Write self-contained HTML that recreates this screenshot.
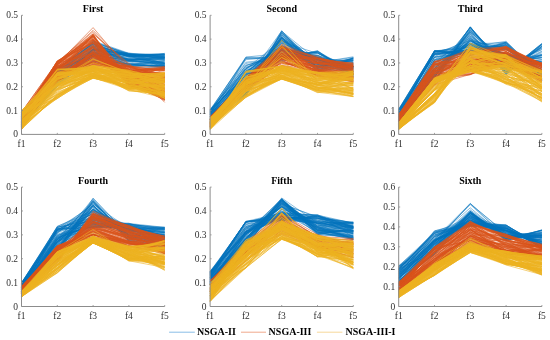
<!DOCTYPE html>
<html><head><meta charset="utf-8"><style>
html,body{margin:0;padding:0;background:#fff;}
body{width:550px;height:340px;overflow:hidden;}
svg{display:block;}
svg{will-change:transform;}
.t{font-family:"Liberation Serif",serif;font-size:9.5px;fill:#303030;}
.ti{font-family:"Liberation Serif",serif;font-size:10px;font-weight:bold;fill:#000;}
.lg{font-family:"Liberation Serif",serif;font-size:10px;font-weight:bold;fill:#000;}
</style></head><body>
<svg width="550" height="340" viewBox="0 0 550 340">
<path d="M21.50 117.16 L57.30 84.02 L93.10 58.84 L128.90 60.98 L164.70 56.42 M21.50 120.15 L57.30 69.26 L93.10 43.42 L128.90 53.67 L164.70 63.48 M21.50 115.73 L57.30 77.77 L93.10 53.87 L128.90 55.18 L164.70 58.68 M21.50 126.24 L57.30 74.58 L93.10 44.60 L128.90 56.07 L164.70 53.60 M21.50 115.93 L57.30 76.83 L93.10 56.38 L128.90 64.21 L164.70 66.85 M21.50 118.79 L57.30 71.09 L93.10 47.08 L128.90 60.62 L164.70 53.26 M21.50 114.39 L57.30 67.93 L93.10 44.08 L128.90 59.66 L164.70 58.03 M21.50 114.97 L57.30 72.16 L93.10 55.35 L128.90 56.71 L164.70 57.55 M21.50 122.14 L57.30 79.06 L93.10 49.90 L128.90 59.40 L164.70 58.99 M21.50 120.89 L57.30 79.57 L93.10 54.83 L128.90 60.27 L164.70 64.27 M21.50 122.27 L57.30 82.27 L93.10 55.73 L128.90 63.16 L164.70 66.45 M21.50 126.21 L57.30 84.37 L93.10 48.45 L128.90 55.55 L164.70 56.55 M21.50 118.48 L57.30 79.66 L93.10 50.32 L128.90 53.11 L164.70 56.09 M21.50 123.13 L57.30 80.80 L93.10 50.94 L128.90 64.72 L164.70 66.09 M21.50 119.90 L57.30 77.77 L93.10 47.09 L128.90 60.61 L164.70 62.75 M21.50 125.30 L57.30 77.85 L93.10 54.54 L128.90 61.91 L164.70 68.05 M21.50 116.49 L57.30 77.17 L93.10 53.65 L128.90 66.09 L164.70 68.58 M21.50 115.24 L57.30 68.85 L93.10 41.58 L128.90 55.17 L164.70 54.79 M21.50 119.45 L57.30 75.81 L93.10 45.49 L128.90 54.43 L164.70 58.67 M21.50 118.44 L57.30 72.72 L93.10 43.49 L128.90 57.13 L164.70 63.57 M21.50 117.61 L57.30 73.96 L93.10 42.09 L128.90 53.68 L164.70 59.47 M21.50 124.38 L57.30 85.41 L93.10 55.20 L128.90 54.31 L164.70 55.00 M21.50 116.94 L57.30 79.83 L93.10 56.36 L128.90 58.21 L164.70 58.43 M21.50 116.80 L57.30 72.82 L93.10 46.09 L128.90 54.24 L164.70 56.99 M21.50 121.56 L57.30 81.62 L93.10 59.36 L128.90 64.42 L164.70 61.27 M21.50 125.90 L57.30 83.56 L93.10 52.99 L128.90 59.23 L164.70 59.58 M21.50 115.16 L57.30 72.40 L93.10 41.41 L128.90 54.12 L164.70 65.96 M21.50 119.61 L57.30 74.54 L93.10 56.21 L128.90 58.75 L164.70 61.25 M21.50 122.55 L57.30 72.45 L93.10 52.92 L128.90 55.37 L164.70 62.88 M21.50 120.96 L57.30 77.71 L93.10 50.95 L128.90 54.56 L164.70 56.92 M21.50 114.60 L57.30 68.20 L93.10 56.18 L128.90 66.23 L164.70 64.72 M21.50 116.07 L57.30 79.18 L93.10 54.37 L128.90 60.80 L164.70 63.30 M21.50 117.40 L57.30 76.27 L93.10 48.73 L128.90 54.77 L164.70 57.89 M21.50 126.98 L57.30 80.03 L93.10 52.07 L128.90 55.77 L164.70 54.87 M21.50 122.57 L57.30 83.03 L93.10 59.77 L128.90 63.89 L164.70 66.32 M21.50 115.44 L57.30 68.55 L93.10 43.18 L128.90 63.74 L164.70 67.26 M21.50 117.75 L57.30 68.52 L93.10 44.21 L128.90 55.87 L164.70 63.92 M21.50 120.54 L57.30 79.29 L93.10 59.05 L128.90 65.83 L164.70 65.58 M21.50 113.76 L57.30 68.92 L93.10 40.78 L128.90 53.24 L164.70 57.65 M21.50 123.47 L57.30 73.85 L93.10 56.01 L128.90 60.19 L164.70 64.87 M21.50 124.51 L57.30 75.73 L93.10 62.25 L128.90 60.99 L164.70 61.07 M21.50 116.27 L57.30 69.05 L93.10 44.10 L128.90 55.18 L164.70 54.80 M21.50 118.24 L57.30 68.07 L93.10 57.62 L128.90 65.40 L164.70 65.87 M21.50 119.07 L57.30 82.53 L93.10 55.36 L128.90 60.60 L164.70 66.73 M21.50 123.29 L57.30 84.55 L93.10 49.38 L128.90 56.13 L164.70 57.53 M21.50 124.63 L57.30 86.69 L93.10 53.22 L128.90 65.13 L164.70 66.41 M21.50 113.15 L57.30 70.24 L93.10 49.93 L128.90 55.80 L164.70 55.36 M21.50 126.60 L57.30 77.97 L93.10 61.54 L128.90 63.73 L164.70 68.24 M21.50 123.95 L57.30 80.88 L93.10 54.37 L128.90 61.13 L164.70 65.48 M21.50 113.55 L57.30 79.60 L93.10 47.42 L128.90 55.88 L164.70 60.32 M21.50 125.78 L57.30 86.16 L93.10 57.15 L128.90 65.16 L164.70 60.49 M21.50 114.32 L57.30 67.84 L93.10 45.75 L128.90 56.34 L164.70 58.03 M21.50 117.95 L57.30 73.70 L93.10 46.59 L128.90 54.97 L164.70 56.80 M21.50 114.07 L57.30 70.20 L93.10 42.80 L128.90 57.22 L164.70 54.71 M21.50 126.83 L57.30 81.14 L93.10 52.41 L128.90 59.22 L164.70 62.87 M21.50 113.88 L57.30 81.73 L93.10 49.23 L128.90 55.69 L164.70 67.14 M21.50 119.11 L57.30 72.38 L93.10 52.41 L128.90 64.37 L164.70 63.20 M21.50 123.73 L57.30 82.49 L93.10 49.17 L128.90 54.36 L164.70 54.22 M21.50 121.95 L57.30 78.14 L93.10 50.15 L128.90 59.45 L164.70 59.63 M21.50 119.96 L57.30 76.03 L93.10 42.08 L128.90 54.61 L164.70 53.83 M21.50 122.91 L57.30 75.02 L93.10 48.81 L128.90 61.62 L164.70 57.86 M21.50 127.19 L57.30 81.83 L93.10 49.09 L128.90 53.67 L164.70 55.12 M21.50 121.23 L57.30 76.46 L93.10 49.08 L128.90 59.96 L164.70 57.53 M21.50 124.13 L57.30 84.52 L93.10 53.64 L128.90 56.45 L164.70 56.19 M21.50 113.34 L57.30 73.70 L93.10 51.72 L128.90 60.32 L164.70 63.92 M21.50 125.53 L57.30 85.93 L93.10 50.47 L128.90 59.99 L164.70 65.19 M21.50 121.46 L57.30 71.07 L93.10 45.52 L128.90 54.37 L164.70 54.89 M21.50 125.01 L57.30 79.38 L93.10 49.41 L128.90 58.29 L164.70 62.43 M21.50 120.36 L57.30 86.23 L93.10 61.17 L128.90 66.18 L164.70 65.03 M21.50 124.91 L57.30 75.40 L93.10 46.99 L128.90 56.46 L164.70 64.33" fill="none" stroke="#0072BD" stroke-width="0.45" stroke-linejoin="round"/>
<path d="M21.50 124.66 L57.30 75.94 L93.10 55.59 L128.90 71.66 L164.70 87.18 M21.50 116.60 L57.30 66.96 L93.10 39.68 L128.90 81.42 L164.70 98.45 M21.50 117.99 L57.30 67.47 L93.10 40.89 L128.90 84.79 L164.70 89.66 M21.50 119.71 L57.30 60.92 L93.10 42.75 L128.90 80.66 L164.70 100.76 M21.50 127.36 L57.30 76.32 L93.10 59.56 L128.90 78.06 L164.70 89.82 M21.50 116.65 L57.30 61.68 L93.10 42.79 L128.90 84.90 L164.70 82.95 M21.50 126.38 L57.30 69.01 L93.10 47.05 L128.90 78.83 L164.70 84.21 M21.50 117.14 L57.30 61.40 L93.10 39.40 L128.90 85.56 L164.70 76.94 M21.50 125.65 L57.30 79.00 L93.10 57.61 L128.90 67.70 L164.70 75.19 M21.50 123.11 L57.30 80.61 L93.10 64.32 L128.90 66.00 L164.70 71.33 M21.50 124.22 L57.30 77.61 L93.10 60.75 L128.90 72.24 L164.70 73.36 M21.50 124.90 L57.30 68.12 L93.10 47.08 L128.90 81.65 L164.70 76.47 M21.50 116.82 L57.30 64.13 L93.10 35.32 L128.90 85.60 L164.70 98.96 M21.50 118.34 L57.30 61.02 L93.10 38.34 L128.90 85.09 L164.70 98.19 M21.50 125.58 L57.30 76.86 L93.10 63.20 L128.90 68.73 L164.70 68.30 M21.50 124.51 L57.30 78.39 L93.10 62.21 L128.90 74.08 L164.70 68.92 M21.50 128.33 L57.30 75.42 L93.10 61.70 L128.90 73.48 L164.70 80.56 M21.50 123.67 L57.30 80.32 L93.10 57.74 L128.90 70.44 L164.70 68.35 M21.50 121.00 L57.30 63.71 L93.10 38.58 L128.90 82.71 L164.70 97.73 M21.50 125.44 L57.30 78.35 L93.10 52.52 L128.90 84.39 L164.70 82.57 M21.50 124.94 L57.30 75.35 L93.10 52.76 L128.90 78.02 L164.70 99.48 M21.50 120.85 L57.30 65.45 L93.10 42.35 L128.90 79.15 L164.70 77.92 M21.50 120.24 L57.30 65.08 L93.10 37.12 L128.90 85.95 L164.70 93.61 M21.50 127.17 L57.30 81.49 L93.10 57.71 L128.90 69.38 L164.70 76.47 M21.50 118.38 L57.30 66.12 L93.10 51.21 L128.90 70.87 L164.70 66.56 M21.50 118.51 L57.30 63.77 L93.10 38.91 L128.90 80.85 L164.70 87.70 M21.50 126.28 L57.30 77.60 L93.10 55.37 L128.90 84.00 L164.70 98.00 M21.50 128.51 L57.30 72.69 L93.10 35.63 L128.90 84.35 L164.70 91.29 M21.50 129.02 L57.30 76.57 L93.10 53.71 L128.90 75.62 L164.70 89.60 M21.50 122.50 L57.30 78.41 L93.10 61.96 L128.90 76.54 L164.70 78.88 M21.50 119.99 L57.30 72.97 L93.10 50.66 L128.90 77.05 L164.70 97.12 M21.50 115.95 L57.30 69.77 L93.10 56.44 L128.90 69.17 L164.70 82.36 M21.50 123.49 L57.30 68.43 L93.10 52.36 L128.90 74.39 L164.70 88.24 M21.50 123.55 L57.30 75.47 L93.10 47.83 L128.90 76.12 L164.70 90.40 M21.50 122.20 L57.30 64.97 L93.10 36.55 L128.90 76.99 L164.70 81.46 M21.50 120.50 L57.30 81.63 L93.10 62.88 L128.90 70.39 L164.70 69.84 M21.50 117.76 L57.30 67.30 L93.10 48.58 L128.90 82.53 L164.70 79.51 M21.50 121.49 L57.30 77.69 L93.10 52.02 L128.90 71.22 L164.70 73.69 M21.50 121.59 L57.30 67.37 L93.10 50.05 L128.90 82.55 L164.70 96.41 M21.50 116.20 L57.30 62.87 L93.10 35.34 L128.90 84.58 L164.70 97.54 M21.50 119.78 L57.30 70.10 L93.10 46.55 L128.90 76.38 L164.70 82.31 M21.50 117.30 L57.30 64.43 L93.10 35.97 L128.90 85.75 L164.70 91.37 M21.50 119.28 L57.30 69.75 L93.10 52.79 L128.90 77.85 L164.70 94.18 M21.50 128.11 L57.30 70.19 L93.10 48.98 L128.90 76.51 L164.70 97.97 M21.50 123.99 L57.30 75.12 L93.10 59.48 L128.90 70.68 L164.70 78.36 M21.50 128.81 L57.30 70.78 L93.10 39.87 L128.90 78.53 L164.70 76.97 M21.50 120.74 L57.30 66.27 L93.10 45.47 L128.90 84.31 L164.70 95.03 M21.50 123.85 L57.30 70.23 L93.10 59.20 L128.90 74.17 L164.70 78.06 M21.50 124.17 L57.30 74.46 L93.10 62.73 L128.90 70.40 L164.70 70.45 M21.50 129.16 L57.30 68.29 L93.10 41.39 L128.90 81.20 L164.70 85.65 M21.50 120.19 L57.30 64.42 L93.10 37.27 L128.90 81.91 L164.70 79.20 M21.50 125.32 L57.30 65.00 L93.10 39.64 L128.90 83.14 L164.70 91.42 M21.50 115.70 L57.30 70.71 L93.10 39.98 L128.90 84.46 L164.70 99.60 M21.50 115.55 L57.30 64.58 L93.10 47.84 L128.90 79.55 L164.70 74.21 M21.50 119.46 L57.30 73.49 L93.10 55.64 L128.90 75.92 L164.70 68.41 M21.50 126.83 L57.30 81.61 L93.10 53.01 L128.90 76.47 L164.70 97.98 M21.50 127.78 L57.30 80.91 L93.10 63.83 L128.90 71.66 L164.70 72.88 M21.50 121.15 L57.30 79.18 L93.10 60.62 L128.90 69.58 L164.70 83.01 M21.50 119.05 L57.30 70.93 L93.10 54.77 L128.90 79.39 L164.70 67.06 M21.50 117.49 L57.30 62.19 L93.10 36.40 L128.90 77.22 L164.70 80.38 M21.50 122.66 L57.30 64.22 L93.10 41.78 L128.90 70.54 L164.70 68.72 M21.50 125.15 L57.30 73.51 L93.10 55.77 L128.90 66.73 L164.70 76.65 M21.50 126.06 L57.30 76.49 L93.10 43.86 L128.90 78.27 L164.70 89.09 M21.50 127.64 L57.30 79.95 L93.10 55.25 L128.90 71.30 L164.70 75.51 M21.50 128.38 L57.30 81.49 L93.10 55.39 L128.90 73.79 L164.70 66.93 M21.50 118.67 L57.30 75.15 L93.10 64.94 L128.90 66.92 L164.70 70.34 M21.50 118.17 L57.30 60.92 L93.10 42.78 L128.90 79.40 L164.70 99.27 M21.50 124.43 L57.30 76.83 L93.10 61.21 L128.90 66.69 L164.70 77.45 M21.50 123.31 L57.30 72.41 L93.10 62.38 L128.90 71.88 L164.70 81.49 M21.50 118.91 L57.30 66.13 L93.10 56.61 L128.90 67.35 L164.70 73.77 M21.50 126.60 L57.30 76.46 L93.10 56.38 L128.90 72.84 L164.70 67.31 M21.50 120.36 L57.30 66.75 L93.10 42.62 L128.90 85.61 L164.70 96.81 M21.50 122.80 L57.30 68.46 L93.10 46.73 L128.90 86.31 L164.70 92.35 M21.50 117.45 L57.30 74.49 L93.10 58.32 L128.90 69.61 L164.70 91.41 M21.50 116.25 L57.30 68.35 L93.10 45.09 L128.90 80.57 L164.70 100.39 M21.50 126.93 L57.30 78.40 L93.10 57.34 L128.90 73.24 L164.70 84.38 M21.50 119.52 L57.30 71.01 L93.10 34.90 L128.90 79.25 L164.70 80.46 M21.50 128.72 L57.30 80.58 L93.10 50.82 L128.90 66.91 L164.70 77.15 M21.50 129.35 L57.30 74.38 L93.10 62.62 L128.90 66.75 L164.70 66.95 M21.50 127.28 L57.30 73.94 L93.10 60.21 L128.90 68.00 L164.70 79.54 M21.50 117.03 L57.30 62.52 L93.10 34.39 L128.90 86.57 L164.70 88.08 M21.50 121.22 L57.30 70.96 L93.10 52.44 L128.90 73.46 L164.70 68.84 M21.50 115.86 L57.30 63.21 L93.10 40.77 L128.90 76.17 L164.70 81.61 M21.50 119.15 L57.30 77.57 L93.10 55.18 L128.90 69.08 L164.70 69.98 M21.50 116.48 L57.30 66.27 L93.10 43.07 L128.90 85.41 L164.70 92.44 M21.50 127.95 L57.30 69.72 L93.10 46.16 L128.90 76.08 L164.70 99.44 M21.50 127.56 L57.30 78.71 L93.10 53.31 L128.90 75.61 L164.70 82.03 M21.50 121.90 L57.30 75.20 L93.10 34.38 L128.90 85.25 L164.70 91.10 M21.50 126.76 L57.30 78.94 L93.10 59.73 L128.90 66.78 L164.70 69.68 M21.50 121.66 L57.30 62.05 L93.10 36.43 L128.90 81.00 L164.70 91.96 M21.50 129.57 L57.30 72.96 L93.10 47.58 L128.90 82.27 L164.70 85.44 M21.50 125.83 L57.30 76.87 L93.10 53.45 L128.90 77.71 L164.70 77.35 M21.50 122.25 L57.30 63.13 L93.10 54.28 L128.90 65.67 L164.70 75.09 M21.50 122.46 L57.30 61.31 L93.10 53.55 L128.90 65.71 L164.70 78.12 M21.50 126.05 L57.30 76.70 L93.10 64.90 L128.90 70.24 L164.70 69.47 M21.50 117.85 L57.30 67.97 L93.10 46.59 L128.90 80.56 L164.70 88.88 M21.50 122.93 L57.30 78.88 L93.10 51.94 L128.90 78.81 L164.70 84.51 M21.50 129.31 L57.30 75.39 L93.10 55.58 L128.90 79.45 L164.70 70.14 M21.50 115.39 L57.30 62.45 L93.10 35.59 L128.90 86.23 L164.70 80.42 M21.50 121.92 L57.30 75.95 L93.10 64.72 L128.90 74.15 L164.70 74.00" fill="none" stroke="#D95319" stroke-width="0.55" stroke-linejoin="round"/>
<path d="M21.50 112.30 L57.30 61.67 L93.10 33.66 L128.90 64.65 L164.70 89.09 M21.50 112.31 L57.30 64.00 L93.10 33.91 L128.90 63.39 L164.70 89.95 M21.50 114.49 L57.30 62.76 L93.10 30.35 L128.90 66.62 L164.70 102.41 M21.50 112.13 L57.30 62.00 L93.10 31.70 L128.90 71.15 L164.70 91.63 M21.50 116.48 L57.30 63.77 L93.10 27.60 L128.90 69.38 L164.70 99.24" fill="none" stroke="#D95319" stroke-width="0.55" stroke-linejoin="round"/>
<path d="M21.50 116.08 L57.30 89.20 L93.10 68.97 L128.90 72.58 L164.70 77.97 M21.50 113.16 L57.30 84.76 L93.10 76.29 L128.90 85.08 L164.70 92.20 M21.50 121.83 L57.30 92.82 L93.10 78.02 L128.90 87.55 L164.70 95.43 M21.50 125.32 L57.30 73.07 L93.10 75.27 L128.90 86.09 L164.70 95.94 M21.50 122.11 L57.30 84.62 L93.10 70.58 L128.90 82.36 L164.70 81.05 M21.50 115.81 L57.30 74.66 L93.10 71.97 L128.90 86.24 L164.70 74.87 M21.50 115.62 L57.30 94.07 L93.10 77.03 L128.90 85.53 L164.70 86.31 M21.50 116.21 L57.30 79.45 L93.10 65.88 L128.90 71.66 L164.70 85.28 M21.50 118.51 L57.30 70.05 L93.10 67.08 L128.90 72.74 L164.70 82.12 M21.50 116.94 L57.30 72.72 L93.10 71.35 L128.90 73.89 L164.70 95.69 M21.50 117.16 L57.30 72.55 L93.10 66.08 L128.90 70.19 L164.70 80.31 M21.50 112.26 L57.30 75.73 L93.10 67.11 L128.90 76.43 L164.70 80.81 M21.50 127.89 L57.30 86.04 L93.10 76.54 L128.90 78.16 L164.70 89.30 M21.50 128.19 L57.30 90.35 L93.10 75.16 L128.90 79.81 L164.70 94.63 M21.50 111.86 L57.30 74.37 L93.10 66.57 L128.90 71.22 L164.70 79.58 M21.50 114.87 L57.30 85.59 L93.10 67.69 L128.90 84.09 L164.70 76.53 M21.50 121.96 L57.30 97.30 L93.10 73.24 L128.90 88.46 L164.70 89.66 M21.50 120.02 L57.30 81.04 L93.10 69.92 L128.90 78.26 L164.70 72.60 M21.50 124.39 L57.30 93.64 L93.10 73.73 L128.90 87.26 L164.70 84.90 M21.50 112.68 L57.30 84.32 L93.10 71.16 L128.90 80.05 L164.70 78.93 M21.50 111.02 L57.30 72.07 L93.10 65.49 L128.90 85.38 L164.70 96.00 M21.50 113.21 L57.30 78.33 L93.10 65.32 L128.90 72.57 L164.70 82.59 M21.50 116.82 L57.30 75.06 L93.10 71.26 L128.90 82.22 L164.70 89.22 M21.50 113.69 L57.30 88.08 L93.10 68.25 L128.90 76.34 L164.70 93.52 M21.50 114.04 L57.30 83.52 L93.10 68.78 L128.90 85.05 L164.70 75.34 M21.50 125.15 L57.30 88.49 L93.10 77.72 L128.90 89.44 L164.70 98.16 M21.50 111.82 L57.30 98.57 L93.10 70.16 L128.90 77.87 L164.70 91.32 M21.50 121.29 L57.30 87.98 L93.10 66.69 L128.90 80.80 L164.70 89.65 M21.50 126.64 L57.30 75.12 L93.10 70.23 L128.90 88.66 L164.70 95.75 M21.50 126.92 L57.30 79.45 L93.10 66.81 L128.90 75.04 L164.70 98.42 M21.50 113.01 L57.30 94.80 L93.10 77.06 L128.90 75.34 L164.70 93.27 M21.50 113.45 L57.30 83.42 L93.10 66.99 L128.90 77.83 L164.70 75.06 M21.50 128.04 L57.30 77.95 L93.10 75.13 L128.90 88.72 L164.70 87.54 M21.50 118.01 L57.30 73.05 L93.10 73.20 L128.90 75.11 L164.70 72.52 M21.50 111.75 L57.30 69.78 L93.10 67.97 L128.90 82.52 L164.70 73.19 M21.50 124.47 L57.30 98.43 L93.10 76.11 L128.90 88.95 L164.70 86.10 M21.50 126.75 L57.30 85.79 L93.10 73.43 L128.90 88.66 L164.70 78.98 M21.50 122.17 L57.30 77.56 L93.10 68.45 L128.90 81.09 L164.70 78.06 M21.50 126.88 L57.30 96.01 L93.10 75.14 L128.90 76.29 L164.70 98.63 M21.50 126.95 L57.30 91.28 L93.10 72.67 L128.90 87.03 L164.70 97.69 M21.50 113.54 L57.30 74.64 L93.10 68.45 L128.90 72.92 L164.70 76.22 M21.50 115.96 L57.30 85.09 L93.10 73.94 L128.90 86.19 L164.70 76.02 M21.50 113.83 L57.30 97.40 L93.10 71.47 L128.90 88.15 L164.70 81.07 M21.50 119.37 L57.30 98.58 L93.10 74.86 L128.90 81.12 L164.70 87.69 M21.50 123.55 L57.30 81.96 L93.10 66.07 L128.90 77.56 L164.70 74.73 M21.50 118.52 L57.30 75.62 L93.10 75.19 L128.90 81.37 L164.70 89.64 M21.50 113.25 L57.30 92.07 L93.10 77.87 L128.90 87.00 L164.70 92.00 M21.50 128.93 L57.30 95.41 L93.10 75.35 L128.90 82.35 L164.70 87.09 M21.50 121.42 L57.30 83.49 L93.10 69.48 L128.90 75.26 L164.70 88.03 M21.50 124.25 L57.30 83.79 L93.10 75.42 L128.90 76.82 L164.70 97.06 M21.50 119.84 L57.30 77.86 L93.10 68.80 L128.90 79.75 L164.70 86.96 M21.50 129.34 L57.30 85.73 L93.10 75.82 L128.90 74.08 L164.70 83.97 M21.50 117.64 L57.30 76.99 L93.10 70.75 L128.90 79.42 L164.70 81.81 M21.50 116.25 L57.30 68.93 L93.10 67.72 L128.90 75.41 L164.70 74.33 M21.50 117.45 L57.30 88.83 L93.10 68.19 L128.90 76.07 L164.70 92.64 M21.50 115.26 L57.30 86.76 L93.10 73.11 L128.90 72.02 L164.70 93.38 M21.50 126.13 L57.30 83.70 L93.10 73.51 L128.90 82.35 L164.70 73.01 M21.50 123.09 L57.30 86.50 L93.10 78.30 L128.90 79.78 L164.70 82.88 M21.50 124.17 L57.30 73.31 L93.10 67.06 L128.90 74.05 L164.70 73.19 M21.50 125.82 L57.30 89.47 L93.10 77.32 L128.90 79.45 L164.70 90.78 M21.50 113.52 L57.30 85.58 L93.10 69.62 L128.90 78.15 L164.70 73.27 M21.50 120.64 L57.30 89.48 L93.10 72.93 L128.90 90.81 L164.70 93.18 M21.50 110.68 L57.30 75.64 L93.10 65.55 L128.90 70.50 L164.70 78.35 M21.50 127.34 L57.30 95.02 L93.10 74.29 L128.90 88.69 L164.70 94.56 M21.50 112.14 L57.30 84.50 L93.10 70.11 L128.90 71.60 L164.70 91.79 M21.50 114.04 L57.30 69.72 L93.10 68.83 L128.90 74.88 L164.70 85.23 M21.50 121.33 L57.30 76.36 L93.10 71.55 L128.90 89.92 L164.70 82.49 M21.50 112.38 L57.30 84.45 L93.10 65.74 L128.90 71.00 L164.70 89.09 M21.50 112.33 L57.30 88.39 L93.10 71.44 L128.90 86.51 L164.70 95.93 M21.50 120.47 L57.30 97.20 L93.10 74.58 L128.90 78.03 L164.70 89.54 M21.50 126.11 L57.30 97.77 L93.10 77.74 L128.90 82.81 L164.70 79.21 M21.50 128.19 L57.30 94.39 L93.10 76.31 L128.90 82.85 L164.70 96.42 M21.50 124.04 L57.30 83.23 L93.10 71.26 L128.90 90.85 L164.70 94.11 M21.50 129.56 L57.30 75.13 L93.10 73.41 L128.90 90.10 L164.70 94.77 M21.50 111.01 L57.30 79.07 L93.10 67.97 L128.90 72.91 L164.70 74.29 M21.50 118.40 L57.30 81.99 L93.10 70.30 L128.90 73.91 L164.70 86.32 M21.50 125.19 L57.30 89.94 L93.10 76.31 L128.90 87.57 L164.70 84.61 M21.50 118.67 L57.30 73.93 L93.10 73.56 L128.90 89.55 L164.70 82.40 M21.50 126.12 L57.30 97.02 L93.10 76.14 L128.90 85.16 L164.70 93.23 M21.50 122.76 L57.30 96.87 L93.10 66.42 L128.90 83.91 L164.70 94.03 M21.50 118.13 L57.30 72.91 L93.10 72.01 L128.90 74.79 L164.70 80.54 M21.50 111.10 L57.30 73.79 L93.10 67.02 L128.90 73.11 L164.70 82.35 M21.50 119.76 L57.30 96.49 L93.10 77.95 L128.90 86.59 L164.70 94.84 M21.50 129.09 L57.30 95.50 L93.10 73.95 L128.90 83.53 L164.70 82.33 M21.50 128.64 L57.30 95.06 L93.10 78.33 L128.90 86.05 L164.70 97.15 M21.50 114.36 L57.30 78.25 L93.10 69.78 L128.90 77.74 L164.70 76.19 M21.50 116.53 L57.30 74.94 L93.10 68.15 L128.90 85.12 L164.70 85.43 M21.50 125.80 L57.30 78.18 L93.10 75.95 L128.90 88.04 L164.70 91.90 M21.50 113.36 L57.30 82.33 L93.10 68.59 L128.90 75.62 L164.70 82.65 M21.50 125.43 L57.30 84.51 L93.10 76.56 L128.90 82.60 L164.70 79.71" fill="none" stroke="#EDB120" stroke-width="0.6" stroke-linejoin="round"/>
<path d="M21.50 122.53 L57.30 82.98 L93.10 59.33 L128.90 72.32 L164.70 82.82 M21.50 117.48 L57.30 80.48 L93.10 62.75 L128.90 72.57 L164.70 86.32 M21.50 121.28 L57.30 79.67 L93.10 58.82 L128.90 73.26 L164.70 80.03" fill="none" stroke="#EDB120" stroke-width="0.6" stroke-linejoin="round"/>
<path d="M21.50 15.30 L21.50 134.40 L164.70 134.40" fill="none" stroke="#8c8c8c" stroke-width="1"/>
<path d="M21.50 134.40 h1.5 M21.50 110.58 h1.5 M21.50 86.76 h1.5 M21.50 62.94 h1.5 M21.50 39.12 h1.5 M21.50 15.30 h1.5 M57.30 134.40 v-1.5 M93.10 134.40 v-1.5 M128.90 134.40 v-1.5 M164.70 134.40 v-1.5" stroke="#8c8c8c" stroke-width="0.8"/>
<text x="18.00" y="137.40" text-anchor="end" class="t">0</text>
<text x="18.00" y="113.58" text-anchor="end" class="t">0.1</text>
<text x="18.00" y="89.76" text-anchor="end" class="t">0.2</text>
<text x="18.00" y="65.94" text-anchor="end" class="t">0.3</text>
<text x="18.00" y="42.12" text-anchor="end" class="t">0.4</text>
<text x="18.00" y="18.30" text-anchor="end" class="t">0.5</text>
<text x="21.50" y="146.50" text-anchor="middle" class="t">f1</text>
<text x="57.30" y="146.50" text-anchor="middle" class="t">f2</text>
<text x="93.10" y="146.50" text-anchor="middle" class="t">f3</text>
<text x="128.90" y="146.50" text-anchor="middle" class="t">f4</text>
<text x="164.70" y="146.50" text-anchor="middle" class="t">f5</text>
<text x="93.10" y="11.70" text-anchor="middle" class="ti">First</text>
<path d="M210.10 117.71 L245.90 82.12 L281.70 50.52 L317.50 64.41 L353.30 61.36 M210.10 112.59 L245.90 69.69 L281.70 49.77 L317.50 57.21 L353.30 66.87 M210.10 115.21 L245.90 67.50 L281.70 56.35 L317.50 55.28 L353.30 67.60 M210.10 119.83 L245.90 76.15 L281.70 50.31 L317.50 55.49 L353.30 75.79 M210.10 112.79 L245.90 58.42 L281.70 56.06 L317.50 57.76 L353.30 69.21 M210.10 115.79 L245.90 95.57 L281.70 34.86 L317.50 63.33 L353.30 59.17 M210.10 122.11 L245.90 94.36 L281.70 37.10 L317.50 72.12 L353.30 64.55 M210.10 113.88 L245.90 67.25 L281.70 54.39 L317.50 57.39 L353.30 76.80 M210.10 121.61 L245.90 92.49 L281.70 37.65 L317.50 71.34 L353.30 58.08 M210.10 119.28 L245.90 80.57 L281.70 31.06 L317.50 71.85 L353.30 58.46 M210.10 110.70 L245.90 75.91 L281.70 43.54 L317.50 70.34 L353.30 66.56 M210.10 120.62 L245.90 94.92 L281.70 45.45 L317.50 62.24 L353.30 66.37 M210.10 121.22 L245.90 94.02 L281.70 31.23 L317.50 60.36 L353.30 76.54 M210.10 118.37 L245.90 77.26 L281.70 50.94 L317.50 57.31 L353.30 62.33 M210.10 111.54 L245.90 95.07 L281.70 38.29 L317.50 68.53 L353.30 57.86 M210.10 116.02 L245.90 68.82 L281.70 46.33 L317.50 66.53 L353.30 68.73 M210.10 117.34 L245.90 71.59 L281.70 61.51 L317.50 52.83 L353.30 76.33 M210.10 111.21 L245.90 63.39 L281.70 58.38 L317.50 50.68 L353.30 74.39 M210.10 113.12 L245.90 59.71 L281.70 55.73 L317.50 52.80 L353.30 70.70 M210.10 118.58 L245.90 91.01 L281.70 45.67 L317.50 62.09 L353.30 68.29 M210.10 112.10 L245.90 87.96 L281.70 32.34 L317.50 64.22 L353.30 63.37 M210.10 119.99 L245.90 93.99 L281.70 34.50 L317.50 67.48 L353.30 71.18 M210.10 114.52 L245.90 77.70 L281.70 48.51 L317.50 59.86 L353.30 67.48 M210.10 119.44 L245.90 80.52 L281.70 40.45 L317.50 61.08 L353.30 71.86 M210.10 117.10 L245.90 78.04 L281.70 48.79 L317.50 58.53 L353.30 71.15 M210.10 112.42 L245.90 83.22 L281.70 46.49 L317.50 59.23 L353.30 67.07 M210.10 112.90 L245.90 65.27 L281.70 56.27 L317.50 51.95 L353.30 75.39 M210.10 122.33 L245.90 74.08 L281.70 37.36 L317.50 63.01 L353.30 57.41 M210.10 114.07 L245.90 70.52 L281.70 55.01 L317.50 56.95 L353.30 74.13 M210.10 111.90 L245.90 77.64 L281.70 50.60 L317.50 53.17 L353.30 71.15 M210.10 120.30 L245.90 93.81 L281.70 32.38 L317.50 68.59 L353.30 64.16 M210.10 113.20 L245.90 70.95 L281.70 50.59 L317.50 57.41 L353.30 72.97 M210.10 109.68 L245.90 69.12 L281.70 47.15 L317.50 66.95 L353.30 59.77 M210.10 110.96 L245.90 65.23 L281.70 56.06 L317.50 57.30 L353.30 66.32 M210.10 114.87 L245.90 72.53 L281.70 45.63 L317.50 68.44 L353.30 66.08 M210.10 110.60 L245.90 75.40 L281.70 56.03 L317.50 52.50 L353.30 74.30 M210.10 119.63 L245.90 78.76 L281.70 41.61 L317.50 60.71 L353.30 66.60 M210.10 120.46 L245.90 88.23 L281.70 38.51 L317.50 67.41 L353.30 59.87 M210.10 121.16 L245.90 71.47 L281.70 52.48 L317.50 64.42 L353.30 66.66 M210.10 114.65 L245.90 75.16 L281.70 58.73 L317.50 51.59 L353.30 73.17 M210.10 119.00 L245.90 74.32 L281.70 48.45 L317.50 58.48 L353.30 69.17 M210.10 118.20 L245.90 57.22 L281.70 57.46 L317.50 51.47 L353.30 73.39 M210.10 120.93 L245.90 86.61 L281.70 39.60 L317.50 70.10 L353.30 58.41 M210.10 115.42 L245.90 83.22 L281.70 46.22 L317.50 66.59 L353.30 62.37 M210.10 120.11 L245.90 86.73 L281.70 33.30 L317.50 63.10 L353.30 60.15 M210.10 110.06 L245.90 68.55 L281.70 48.61 L317.50 55.13 L353.30 74.73 M210.10 121.45 L245.90 93.96 L281.70 31.50 L317.50 64.43 L353.30 68.18 M210.10 113.59 L245.90 68.85 L281.70 40.32 L317.50 58.48 L353.30 74.06 M210.10 113.67 L245.90 86.75 L281.70 33.65 L317.50 68.01 L353.30 61.17 M210.10 109.50 L245.90 78.91 L281.70 42.63 L317.50 59.62 L353.30 67.48 M210.10 116.98 L245.90 93.47 L281.70 35.14 L317.50 66.69 L353.30 74.67 M210.10 111.43 L245.90 66.11 L281.70 51.85 L317.50 59.16 L353.30 73.13 M210.10 115.55 L245.90 81.51 L281.70 40.12 L317.50 59.12 L353.30 73.30 M210.10 117.78 L245.90 87.57 L281.70 36.67 L317.50 67.87 L353.30 60.41 M210.10 118.83 L245.90 89.05 L281.70 43.14 L317.50 57.85 L353.30 75.52 M210.10 113.34 L245.90 91.20 L281.70 40.49 L317.50 65.63 L353.30 60.57 M210.10 116.22 L245.90 74.42 L281.70 53.04 L317.50 52.69 L353.30 71.06 M210.10 121.70 L245.90 70.85 L281.70 60.44 L317.50 51.43 L353.30 70.73 M210.10 116.71 L245.90 78.34 L281.70 41.53 L317.50 67.08 L353.30 58.20 M210.10 120.72 L245.90 95.77 L281.70 48.69 L317.50 60.08 L353.30 66.32 M210.10 110.52 L245.90 62.24 L281.70 58.06 L317.50 51.00 L353.30 75.57 M210.10 109.96 L245.90 74.96 L281.70 57.48 L317.50 56.74 L353.30 72.90 M210.10 121.90 L245.90 81.58 L281.70 49.92 L317.50 56.10 L353.30 71.28 M210.10 116.41 L245.90 85.77 L281.70 36.05 L317.50 62.27 L353.30 64.92 M210.10 118.06 L245.90 75.05 L281.70 50.12 L317.50 65.94 L353.30 63.36 M210.10 116.47 L245.90 72.76 L281.70 42.94 L317.50 59.67 L353.30 71.86 M210.10 116.77 L245.90 80.98 L281.70 41.65 L317.50 53.49 L353.30 67.69 M210.10 112.19 L245.90 73.58 L281.70 50.10 L317.50 57.58 L353.30 62.69 M210.10 109.76 L245.90 58.68 L281.70 58.90 L317.50 59.26 L353.30 66.46 M210.10 115.62 L245.90 84.03 L281.70 37.85 L317.50 66.63 L353.30 58.26 M210.10 117.50 L245.90 89.43 L281.70 30.62 L317.50 70.04 L353.30 58.09 M210.10 119.14 L245.90 92.87 L281.70 37.54 L317.50 61.14 L353.30 59.77 M210.10 115.11 L245.90 82.14 L281.70 38.69 L317.50 62.62 L353.30 56.77 M210.10 122.25 L245.90 93.29 L281.70 39.35 L317.50 66.89 L353.30 60.21 M210.10 114.24 L245.90 74.89 L281.70 38.41 L317.50 64.63 L353.30 64.59 M210.10 110.31 L245.90 57.69 L281.70 60.30 L317.50 57.91 L353.30 72.86 M210.10 114.35 L245.90 94.32 L281.70 32.83 L317.50 65.54 L353.30 66.13 M210.10 111.14 L245.90 57.08 L281.70 53.41 L317.50 55.58 L353.30 66.75 M210.10 111.84 L245.90 72.12 L281.70 44.99 L317.50 58.23 L353.30 76.53 M210.10 118.51 L245.90 83.80 L281.70 37.31 L317.50 62.50 L353.30 68.67" fill="none" stroke="#0072BD" stroke-width="0.45" stroke-linejoin="round"/>
<path d="M210.10 118.63 L245.90 83.25 L281.70 56.33 L317.50 71.08 L353.30 70.83 M210.10 125.09 L245.90 83.44 L281.70 58.52 L317.50 70.64 L353.30 79.21 M210.10 122.76 L245.90 86.66 L281.70 58.88 L317.50 74.14 L353.30 75.95 M210.10 126.82 L245.90 81.20 L281.70 53.76 L317.50 68.42 L353.30 76.84 M210.10 120.00 L245.90 78.62 L281.70 47.99 L317.50 60.81 L353.30 63.01 M210.10 117.24 L245.90 88.32 L281.70 66.24 L317.50 65.83 L353.30 67.17 M210.10 122.30 L245.90 91.30 L281.70 65.05 L317.50 63.36 L353.30 68.03 M210.10 121.37 L245.90 88.12 L281.70 62.26 L317.50 72.29 L353.30 77.78 M210.10 120.22 L245.90 78.49 L281.70 47.90 L317.50 56.40 L353.30 71.82 M210.10 118.42 L245.90 81.09 L281.70 58.81 L317.50 75.58 L353.30 81.00 M210.10 121.86 L245.90 88.72 L281.70 57.37 L317.50 72.65 L353.30 80.26 M210.10 122.86 L245.90 85.89 L281.70 56.30 L317.50 63.62 L353.30 68.08 M210.10 119.27 L245.90 79.81 L281.70 58.57 L317.50 58.35 L353.30 72.00 M210.10 122.61 L245.90 79.97 L281.70 53.11 L317.50 73.63 L353.30 73.34 M210.10 119.36 L245.90 84.86 L281.70 61.39 L317.50 69.50 L353.30 81.22 M210.10 126.74 L245.90 81.41 L281.70 53.46 L317.50 63.01 L353.30 69.71 M210.10 123.95 L245.90 83.21 L281.70 49.70 L317.50 61.29 L353.30 66.37 M210.10 118.04 L245.90 78.03 L281.70 50.36 L317.50 62.69 L353.30 71.50 M210.10 123.57 L245.90 80.66 L281.70 47.82 L317.50 58.69 L353.30 63.68 M210.10 120.66 L245.90 86.52 L281.70 46.58 L317.50 63.08 L353.30 66.23 M210.10 121.44 L245.90 91.38 L281.70 63.58 L317.50 65.59 L353.30 72.09 M210.10 124.53 L245.90 79.31 L281.70 53.26 L317.50 58.11 L353.30 69.19 M210.10 126.60 L245.90 84.91 L281.70 60.35 L317.50 76.04 L353.30 81.94 M210.10 123.02 L245.90 91.04 L281.70 60.07 L317.50 75.91 L353.30 77.84 M210.10 126.17 L245.90 88.94 L281.70 56.12 L317.50 76.11 L353.30 81.04 M210.10 118.19 L245.90 90.33 L281.70 65.76 L317.50 75.27 L353.30 81.54 M210.10 121.67 L245.90 79.29 L281.70 54.01 L317.50 71.85 L353.30 74.61 M210.10 123.21 L245.90 86.35 L281.70 44.17 L317.50 57.92 L353.30 65.11 M210.10 117.35 L245.90 83.74 L281.70 57.50 L317.50 70.26 L353.30 77.88 M210.10 119.81 L245.90 79.12 L281.70 51.29 L317.50 69.73 L353.30 70.92 M210.10 117.89 L245.90 81.20 L281.70 47.92 L317.50 61.71 L353.30 70.55 M210.10 118.34 L245.90 87.35 L281.70 62.40 L317.50 71.15 L353.30 80.88 M210.10 124.27 L245.90 84.18 L281.70 54.96 L317.50 58.69 L353.30 67.65 M210.10 126.26 L245.90 77.74 L281.70 45.74 L317.50 58.36 L353.30 64.98 M210.10 116.79 L245.90 81.84 L281.70 52.54 L317.50 71.44 L353.30 74.33 M210.10 117.02 L245.90 82.72 L281.70 50.33 L317.50 61.97 L353.30 69.27 M210.10 125.54 L245.90 89.81 L281.70 65.60 L317.50 70.79 L353.30 65.13 M210.10 123.64 L245.90 80.70 L281.70 49.05 L317.50 69.12 L353.30 68.88 M210.10 119.05 L245.90 88.30 L281.70 54.86 L317.50 66.42 L353.30 73.81 M210.10 125.76 L245.90 80.33 L281.70 54.68 L317.50 69.34 L353.30 80.17 M210.10 123.34 L245.90 85.86 L281.70 57.56 L317.50 63.35 L353.30 74.33 M210.10 116.92 L245.90 88.77 L281.70 59.01 L317.50 70.45 L353.30 73.35 M210.10 127.02 L245.90 88.21 L281.70 66.00 L317.50 75.42 L353.30 77.49 M210.10 125.89 L245.90 86.57 L281.70 55.64 L317.50 72.11 L353.30 74.69 M210.10 117.50 L245.90 84.17 L281.70 47.86 L317.50 60.47 L353.30 70.00 M210.10 124.96 L245.90 79.51 L281.70 47.48 L317.50 72.59 L353.30 81.95 M210.10 119.68 L245.90 81.21 L281.70 54.68 L317.50 66.11 L353.30 79.34 M210.10 124.74 L245.90 86.94 L281.70 59.34 L317.50 65.78 L353.30 71.16 M210.10 120.39 L245.90 88.92 L281.70 61.14 L317.50 74.28 L353.30 76.38 M210.10 118.94 L245.90 79.09 L281.70 53.47 L317.50 58.70 L353.30 68.59 M210.10 120.07 L245.90 85.72 L281.70 56.27 L317.50 59.95 L353.30 65.11 M210.10 121.27 L245.90 79.28 L281.70 56.65 L317.50 67.14 L353.30 74.40 M210.10 121.02 L245.90 82.30 L281.70 51.34 L317.50 64.93 L353.30 79.60 M210.10 124.48 L245.90 84.12 L281.70 46.17 L317.50 58.48 L353.30 66.02 M210.10 120.86 L245.90 82.35 L281.70 47.84 L317.50 57.48 L353.30 65.79 M210.10 126.39 L245.90 77.88 L281.70 47.95 L317.50 60.43 L353.30 73.06 M210.10 123.79 L245.90 80.77 L281.70 63.20 L317.50 69.31 L353.30 73.52 M210.10 127.25 L245.90 90.84 L281.70 47.23 L317.50 62.78 L353.30 65.86 M210.10 124.12 L245.90 81.75 L281.70 46.00 L317.50 63.43 L353.30 76.76 M210.10 121.96 L245.90 83.64 L281.70 51.95 L317.50 62.67 L353.30 63.59 M210.10 119.50 L245.90 83.60 L281.70 57.80 L317.50 67.26 L353.30 66.49 M210.10 125.34 L245.90 77.41 L281.70 45.99 L317.50 69.39 L353.30 76.61 M210.10 122.44 L245.90 78.66 L281.70 50.99 L317.50 67.67 L353.30 69.33 M210.10 118.72 L245.90 86.17 L281.70 58.90 L317.50 67.88 L353.30 66.80 M210.10 116.64 L245.90 79.83 L281.70 48.98 L317.50 76.46 L353.30 78.17 M210.10 125.23 L245.90 81.91 L281.70 56.26 L317.50 59.22 L353.30 63.26 M210.10 122.16 L245.90 80.85 L281.70 46.48 L317.50 69.00 L353.30 77.48 M210.10 120.68 L245.90 77.85 L281.70 56.24 L317.50 63.32 L353.30 64.78 M210.10 125.71 L245.90 88.25 L281.70 57.07 L317.50 62.72 L353.30 66.85 M210.10 117.65 L245.90 88.54 L281.70 62.03 L317.50 72.31 L353.30 78.22" fill="none" stroke="#D95319" stroke-width="0.55" stroke-linejoin="round"/>
<path d="M210.10 119.42 L245.90 84.93 L281.70 65.58 L317.50 74.26 L353.30 74.01 M210.10 123.30 L245.90 86.58 L281.70 67.42 L317.50 81.57 L353.30 90.03 M210.10 118.47 L245.90 84.42 L281.70 74.49 L317.50 87.73 L353.30 93.10 M210.10 125.66 L245.90 82.77 L281.70 75.38 L317.50 86.97 L353.30 90.84 M210.10 124.36 L245.90 88.05 L281.70 75.98 L317.50 89.16 L353.30 91.73 M210.10 122.94 L245.90 95.70 L281.70 77.90 L317.50 84.40 L353.30 76.92 M210.10 126.49 L245.90 90.90 L281.70 73.08 L317.50 85.90 L353.30 94.05 M210.10 124.92 L245.90 89.04 L281.70 71.72 L317.50 91.79 L353.30 90.39 M210.10 121.51 L245.90 80.53 L281.70 69.94 L317.50 72.09 L353.30 79.11 M210.10 126.66 L245.90 82.01 L281.70 77.14 L317.50 84.37 L353.30 92.63 M210.10 124.18 L245.90 96.67 L281.70 75.59 L317.50 88.20 L353.30 93.33 M210.10 123.57 L245.90 83.58 L281.70 68.43 L317.50 76.93 L353.30 84.23 M210.10 121.89 L245.90 81.75 L281.70 73.06 L317.50 79.60 L353.30 80.55 M210.10 129.29 L245.90 86.30 L281.70 76.54 L317.50 92.25 L353.30 96.50 M210.10 127.55 L245.90 95.14 L281.70 76.38 L317.50 86.03 L353.30 72.56 M210.10 125.98 L245.90 88.09 L281.70 71.20 L317.50 78.08 L353.30 80.42 M210.10 117.80 L245.90 81.02 L281.70 69.63 L317.50 78.47 L353.30 72.04 M210.10 128.78 L245.90 91.98 L281.70 77.03 L317.50 89.39 L353.30 96.33 M210.10 122.26 L245.90 81.27 L281.70 70.55 L317.50 72.28 L353.30 80.43 M210.10 126.99 L245.90 97.32 L281.70 72.86 L317.50 75.97 L353.30 81.51 M210.10 128.04 L245.90 97.20 L281.70 77.45 L317.50 84.86 L353.30 94.36 M210.10 128.15 L245.90 94.18 L281.70 71.59 L317.50 87.18 L353.30 93.20 M210.10 120.66 L245.90 86.39 L281.70 73.75 L317.50 82.36 L353.30 83.56 M210.10 120.41 L245.90 77.80 L281.70 65.69 L317.50 73.09 L353.30 71.41 M210.10 127.83 L245.90 91.08 L281.70 77.17 L317.50 90.30 L353.30 87.52 M210.10 121.27 L245.90 80.78 L281.70 70.24 L317.50 80.92 L353.30 75.04 M210.10 127.74 L245.90 91.64 L281.70 77.67 L317.50 84.74 L353.30 89.49 M210.10 124.79 L245.90 83.64 L281.70 68.26 L317.50 75.44 L353.30 79.89 M210.10 128.42 L245.90 90.51 L281.70 71.08 L317.50 72.55 L353.30 75.64 M210.10 120.54 L245.90 77.60 L281.70 67.68 L317.50 77.89 L353.30 78.35 M210.10 121.43 L245.90 94.21 L281.70 78.72 L317.50 89.60 L353.30 93.56 M210.10 123.86 L245.90 90.76 L281.70 78.78 L317.50 90.06 L353.30 73.48 M210.10 123.76 L245.90 93.87 L281.70 72.78 L317.50 84.13 L353.30 82.15 M210.10 126.77 L245.90 96.12 L281.70 73.34 L317.50 78.67 L353.30 72.21 M210.10 118.80 L245.90 78.51 L281.70 67.98 L317.50 75.50 L353.30 76.57 M210.10 119.74 L245.90 83.25 L281.70 75.03 L317.50 78.77 L353.30 73.67 M210.10 123.05 L245.90 81.33 L281.70 65.73 L317.50 88.92 L353.30 82.46 M210.10 125.11 L245.90 82.05 L281.70 66.68 L317.50 73.09 L353.30 75.31 M210.10 119.14 L245.90 77.24 L281.70 67.41 L317.50 72.43 L353.30 70.88 M210.10 123.43 L245.90 80.43 L281.70 68.89 L317.50 80.59 L353.30 73.77 M210.10 127.22 L245.90 95.47 L281.70 74.80 L317.50 84.95 L353.30 78.34 M210.10 118.35 L245.90 84.65 L281.70 71.00 L317.50 80.24 L353.30 71.01 M210.10 119.79 L245.90 82.94 L281.70 68.40 L317.50 84.97 L353.30 96.26 M210.10 125.30 L245.90 87.04 L281.70 75.55 L317.50 90.68 L353.30 88.62 M210.10 122.56 L245.90 80.67 L281.70 67.25 L317.50 73.01 L353.30 77.93 M210.10 128.95 L245.90 91.47 L281.70 75.74 L317.50 88.43 L353.30 94.38 M210.10 129.61 L245.90 96.82 L281.70 76.45 L317.50 92.64 L353.30 90.72 M210.10 121.77 L245.90 79.60 L281.70 70.92 L317.50 85.30 L353.30 83.02 M210.10 122.35 L245.90 83.12 L281.70 68.10 L317.50 72.69 L353.30 73.53 M210.10 128.52 L245.90 90.85 L281.70 75.08 L317.50 90.21 L353.30 96.08 M210.10 129.30 L245.90 91.44 L281.70 78.83 L317.50 91.01 L353.30 87.07 M210.10 121.05 L245.90 83.77 L281.70 70.95 L317.50 82.63 L353.30 91.54 M210.10 118.22 L245.90 84.47 L281.70 77.42 L317.50 84.75 L353.30 77.71 M210.10 119.47 L245.90 82.43 L281.70 69.19 L317.50 77.44 L353.30 83.72 M210.10 124.55 L245.90 96.30 L281.70 73.05 L317.50 87.41 L353.30 93.36 M210.10 125.51 L245.90 89.81 L281.70 68.94 L317.50 82.87 L353.30 85.67 M210.10 120.82 L245.90 84.60 L281.70 68.02 L317.50 73.57 L353.30 78.97 M210.10 118.00 L245.90 95.65 L281.70 79.11 L317.50 90.43 L353.30 96.73 M210.10 122.67 L245.90 82.68 L281.70 70.10 L317.50 76.57 L353.30 71.51 M210.10 127.39 L245.90 93.67 L281.70 78.81 L317.50 87.35 L353.30 93.56 M210.10 118.71 L245.90 89.80 L281.70 79.05 L317.50 91.23 L353.30 94.63 M210.10 120.14 L245.90 92.81 L281.70 78.97 L317.50 87.35 L353.30 89.89 M210.10 119.00 L245.90 79.18 L281.70 69.94 L317.50 82.25 L353.30 78.13 M210.10 120.00 L245.90 80.49 L281.70 67.20 L317.50 73.94 L353.30 72.19 M210.10 124.19 L245.90 97.45 L281.70 78.73 L317.50 80.07 L353.30 78.02 M210.10 122.09 L245.90 88.08 L281.70 78.66 L317.50 83.61 L353.30 94.77 M210.10 129.11 L245.90 84.60 L281.70 68.12 L317.50 73.84 L353.30 75.10 M210.10 126.16 L245.90 89.32 L281.70 73.21 L317.50 88.30 L353.30 83.19 M210.10 125.72 L245.90 89.63 L281.70 71.83 L317.50 82.20 L353.30 91.10 M210.10 126.37 L245.90 95.46 L281.70 77.48 L317.50 89.04 L353.30 84.25" fill="none" stroke="#EDB120" stroke-width="0.6" stroke-linejoin="round"/>
<path d="M210.10 127.12 L245.90 71.04 L281.70 66.57 L317.50 85.78 L353.30 85.61 M210.10 129.11 L245.90 71.61 L281.70 65.92 L317.50 72.26 L353.30 88.93 M210.10 127.54 L245.90 72.54 L281.70 65.83 L317.50 82.81 L353.30 75.17 M210.10 126.59 L245.90 75.18 L281.70 69.98 L317.50 77.02 L353.30 73.24 M210.10 127.99 L245.90 77.09 L281.70 69.32 L317.50 84.50 L353.30 73.58 M210.10 126.10 L245.90 72.24 L281.70 68.80 L317.50 76.44 L353.30 89.06 M210.10 128.84 L245.90 71.52 L281.70 66.34 L317.50 84.03 L353.30 74.49 M210.10 128.11 L245.90 76.75 L281.70 72.09 L317.50 73.14 L353.30 89.02" fill="none" stroke="#EDB120" stroke-width="0.6" stroke-linejoin="round"/>
<path d="M210.10 126.77 L245.90 88.63 L281.70 54.58 L317.50 79.81 L353.30 87.72 M210.10 127.72 L245.90 88.23 L281.70 47.09 L317.50 80.65 L353.30 82.55 M210.10 127.90 L245.90 87.22 L281.70 40.30 L317.50 81.71 L353.30 88.98 M210.10 123.03 L245.90 85.81 L281.70 57.44 L317.50 73.76 L353.30 78.94 M210.10 124.14 L245.90 85.66 L281.70 45.36 L317.50 84.34 L353.30 78.66 M210.10 127.37 L245.90 90.70 L281.70 51.67 L317.50 82.30 L353.30 84.99 M210.10 123.61 L245.90 80.08 L281.70 61.66 L317.50 84.17 L353.30 74.58 M210.10 122.67 L245.90 85.57 L281.70 57.27 L317.50 79.48 L353.30 74.06" fill="none" stroke="#EDB120" stroke-width="0.6" stroke-linejoin="round"/>
<path d="M210.10 15.30 L210.10 134.40 L353.30 134.40" fill="none" stroke="#8c8c8c" stroke-width="1"/>
<path d="M210.10 134.40 h1.5 M210.10 110.58 h1.5 M210.10 86.76 h1.5 M210.10 62.94 h1.5 M210.10 39.12 h1.5 M210.10 15.30 h1.5 M245.90 134.40 v-1.5 M281.70 134.40 v-1.5 M317.50 134.40 v-1.5 M353.30 134.40 v-1.5" stroke="#8c8c8c" stroke-width="0.8"/>
<text x="206.60" y="137.40" text-anchor="end" class="t">0</text>
<text x="206.60" y="113.58" text-anchor="end" class="t">0.1</text>
<text x="206.60" y="89.76" text-anchor="end" class="t">0.2</text>
<text x="206.60" y="65.94" text-anchor="end" class="t">0.3</text>
<text x="206.60" y="42.12" text-anchor="end" class="t">0.4</text>
<text x="206.60" y="18.30" text-anchor="end" class="t">0.5</text>
<text x="210.10" y="146.50" text-anchor="middle" class="t">f1</text>
<text x="245.90" y="146.50" text-anchor="middle" class="t">f2</text>
<text x="281.70" y="146.50" text-anchor="middle" class="t">f3</text>
<text x="317.50" y="146.50" text-anchor="middle" class="t">f4</text>
<text x="353.30" y="146.50" text-anchor="middle" class="t">f5</text>
<text x="281.70" y="11.70" text-anchor="middle" class="ti">Second</text>
<path d="M398.70 111.35 L434.50 68.28 L470.30 43.02 L506.10 54.02 L541.90 62.14 M398.70 121.52 L434.50 81.88 L470.30 30.41 L506.10 63.13 L541.90 55.47 M398.70 111.61 L434.50 54.38 L470.30 52.68 L506.10 44.35 L541.90 78.77 M398.70 115.58 L434.50 68.65 L470.30 32.01 L506.10 59.81 L541.90 55.09 M398.70 117.33 L434.50 70.89 L470.30 27.85 L506.10 70.29 L541.90 51.59 M398.70 116.04 L434.50 52.46 L470.30 52.81 L506.10 42.73 L541.90 78.74 M398.70 120.82 L434.50 59.53 L470.30 43.03 L506.10 61.57 L541.90 55.75 M398.70 121.12 L434.50 80.17 L470.30 29.43 L506.10 64.55 L541.90 57.61 M398.70 114.05 L434.50 54.50 L470.30 52.62 L506.10 42.04 L541.90 74.14 M398.70 110.79 L434.50 50.86 L470.30 47.28 L506.10 45.75 L541.90 75.29 M398.70 120.11 L434.50 81.19 L470.30 28.26 L506.10 64.15 L541.90 55.49 M398.70 118.24 L434.50 67.90 L470.30 37.70 L506.10 68.19 L541.90 51.12 M398.70 114.35 L434.50 80.98 L470.30 27.14 L506.10 67.51 L541.90 49.56 M398.70 112.67 L434.50 53.81 L470.30 40.34 L506.10 65.11 L541.90 49.45 M398.70 112.33 L434.50 62.46 L470.30 44.15 L506.10 42.46 L541.90 76.68 M398.70 120.39 L434.50 73.22 L470.30 31.97 L506.10 74.58 L541.90 44.20 M398.70 110.06 L434.50 54.05 L470.30 50.47 L506.10 43.12 L541.90 77.02 M398.70 119.28 L434.50 74.47 L470.30 39.14 L506.10 68.67 L541.90 54.84 M398.70 118.00 L434.50 80.90 L470.30 26.97 L506.10 67.21 L541.90 47.96 M398.70 117.01 L434.50 68.31 L470.30 40.58 L506.10 56.64 L541.90 64.47 M398.70 122.37 L434.50 76.33 L470.30 26.88 L506.10 71.69 L541.90 44.27 M398.70 122.52 L434.50 77.02 L470.30 34.43 L506.10 68.35 L541.90 52.70 M398.70 124.34 L434.50 77.20 L470.30 29.47 L506.10 73.64 L541.90 44.83 M398.70 109.14 L434.50 50.81 L470.30 53.74 L506.10 44.24 L541.90 80.27 M398.70 121.41 L434.50 76.97 L470.30 35.91 L506.10 72.13 L541.90 43.86 M398.70 122.80 L434.50 63.24 L470.30 44.02 L506.10 61.77 L541.90 56.85 M398.70 123.97 L434.50 77.14 L470.30 30.38 L506.10 60.45 L541.90 54.46 M398.70 115.22 L434.50 53.74 L470.30 51.45 L506.10 48.72 L541.90 74.19 M398.70 123.01 L434.50 74.50 L470.30 40.14 L506.10 61.69 L541.90 57.58 M398.70 112.28 L434.50 68.78 L470.30 38.55 L506.10 55.05 L541.90 63.42 M398.70 122.28 L434.50 73.09 L470.30 27.48 L506.10 69.68 L541.90 48.21 M398.70 119.67 L434.50 69.86 L470.30 40.19 L506.10 49.05 L541.90 69.90 M398.70 110.35 L434.50 62.64 L470.30 35.45 L506.10 70.32 L541.90 46.62 M398.70 123.30 L434.50 76.96 L470.30 32.44 L506.10 72.29 L541.90 43.52 M398.70 124.60 L434.50 80.30 L470.30 33.76 L506.10 74.03 L541.90 44.49 M398.70 109.33 L434.50 51.02 L470.30 48.11 L506.10 46.52 L541.90 71.56 M398.70 110.31 L434.50 56.66 L470.30 52.14 L506.10 47.29 L541.90 73.67 M398.70 124.75 L434.50 74.82 L470.30 33.27 L506.10 74.68 L541.90 46.40 M398.70 121.04 L434.50 59.64 L470.30 48.82 L506.10 55.77 L541.90 61.75 M398.70 119.37 L434.50 57.56 L470.30 46.09 L506.10 53.82 L541.90 69.93 M398.70 110.59 L434.50 50.90 L470.30 55.43 L506.10 48.72 L541.90 75.53 M398.70 115.43 L434.50 60.29 L470.30 49.39 L506.10 42.18 L541.90 76.57 M398.70 116.59 L434.50 72.12 L470.30 43.42 L506.10 56.34 L541.90 62.20 M398.70 111.05 L434.50 51.47 L470.30 55.30 L506.10 45.53 L541.90 77.26 M398.70 123.77 L434.50 72.68 L470.30 36.19 L506.10 61.54 L541.90 59.95 M398.70 114.50 L434.50 50.62 L470.30 53.41 L506.10 44.94 L541.90 74.54 M398.70 119.95 L434.50 72.80 L470.30 40.92 L506.10 47.94 L541.90 72.54 M398.70 109.51 L434.50 51.93 L470.30 50.82 L506.10 58.30 L541.90 61.70 M398.70 113.35 L434.50 51.90 L470.30 45.03 L506.10 53.93 L541.90 65.77 M398.70 116.77 L434.50 56.79 L470.30 37.81 L506.10 73.03 L541.90 46.85 M398.70 114.13 L434.50 70.35 L470.30 41.48 L506.10 54.11 L541.90 65.76 M398.70 114.76 L434.50 52.14 L470.30 46.86 L506.10 41.29 L541.90 76.86 M398.70 116.33 L434.50 52.09 L470.30 43.76 L506.10 53.79 L541.90 65.70 M398.70 112.07 L434.50 67.61 L470.30 41.34 L506.10 60.52 L541.90 57.90 M398.70 124.15 L434.50 81.48 L470.30 38.78 L506.10 71.28 L541.90 46.27 M398.70 115.76 L434.50 54.19 L470.30 49.32 L506.10 49.48 L541.90 69.91 M398.70 112.88 L434.50 66.01 L470.30 43.86 L506.10 61.67 L541.90 55.09 M398.70 116.27 L434.50 59.95 L470.30 50.65 L506.10 55.22 L541.90 63.24 M398.70 117.58 L434.50 77.84 L470.30 26.74 L506.10 72.69 L541.90 43.43 M398.70 118.64 L434.50 61.97 L470.30 50.80 L506.10 53.54 L541.90 67.40 M398.70 113.57 L434.50 51.42 L470.30 53.14 L506.10 48.57 L541.90 72.21 M398.70 121.86 L434.50 75.64 L470.30 41.13 L506.10 55.56 L541.90 62.16 M398.70 117.85 L434.50 57.46 L470.30 52.81 L506.10 42.70 L541.90 78.79 M398.70 113.19 L434.50 51.75 L470.30 50.27 L506.10 44.84 L541.90 80.69 M398.70 119.77 L434.50 69.91 L470.30 47.64 L506.10 46.52 L541.90 73.89 M398.70 118.89 L434.50 62.52 L470.30 44.84 L506.10 53.83 L541.90 64.51 M398.70 118.92 L434.50 66.49 L470.30 43.20 L506.10 59.48 L541.90 57.58 M398.70 118.48 L434.50 75.71 L470.30 31.76 L506.10 64.34 L541.90 60.00 M398.70 123.11 L434.50 74.57 L470.30 31.00 L506.10 69.61 L541.90 47.62 M398.70 121.94 L434.50 77.46 L470.30 27.43 L506.10 73.09 L541.90 46.11 M398.70 111.28 L434.50 55.22 L470.30 49.80 L506.10 54.06 L541.90 64.55 M398.70 109.08 L434.50 63.86 L470.30 45.14 L506.10 53.13 L541.90 69.14 M398.70 111.82 L434.50 54.67 L470.30 48.84 L506.10 47.80 L541.90 68.21 M398.70 114.99 L434.50 53.54 L470.30 49.18 L506.10 49.28 L541.90 74.92 M398.70 113.89 L434.50 80.43 L470.30 36.86 L506.10 71.92 L541.90 45.05 M398.70 120.58 L434.50 60.47 L470.30 52.13 L506.10 45.34 L541.90 75.96 M398.70 109.88 L434.50 50.53 L470.30 51.68 L506.10 54.50 L541.90 59.59 M398.70 113.01 L434.50 53.33 L470.30 51.52 L506.10 43.66 L541.90 76.19 M398.70 123.64 L434.50 74.94 L470.30 38.87 L506.10 68.52 L541.90 54.10 M398.70 117.20 L434.50 57.31 L470.30 51.86 L506.10 43.45 L541.90 79.34" fill="none" stroke="#0072BD" stroke-width="0.45" stroke-linejoin="round"/>
<path d="M398.70 115.39 L434.50 68.91 L470.30 58.14 L506.10 55.91 L541.90 72.71 M398.70 126.47 L434.50 85.22 L470.30 63.54 L506.10 51.88 L541.90 63.64 M398.70 116.95 L434.50 70.84 L470.30 66.28 L506.10 53.86 L541.90 70.43 M398.70 121.28 L434.50 61.30 L470.30 62.76 L506.10 58.34 L541.90 79.73 M398.70 119.30 L434.50 68.50 L470.30 61.55 L506.10 47.32 L541.90 64.15 M398.70 123.95 L434.50 83.78 L470.30 61.71 L506.10 53.08 L541.90 66.20 M398.70 120.93 L434.50 74.57 L470.30 58.80 L506.10 64.12 L541.90 78.73 M398.70 125.83 L434.50 76.21 L470.30 71.08 L506.10 59.27 L541.90 63.19 M398.70 123.07 L434.50 81.05 L470.30 54.78 L506.10 51.96 L541.90 67.68 M398.70 120.21 L434.50 70.89 L470.30 63.46 L506.10 56.94 L541.90 64.47 M398.70 123.75 L434.50 78.55 L470.30 48.86 L506.10 46.90 L541.90 66.22 M398.70 122.56 L434.50 83.97 L470.30 62.14 L506.10 53.09 L541.90 65.85 M398.70 120.54 L434.50 70.95 L470.30 68.41 L506.10 63.22 L541.90 80.11 M398.70 117.30 L434.50 81.29 L470.30 66.48 L506.10 58.72 L541.90 72.03 M398.70 117.76 L434.50 68.58 L470.30 53.71 L506.10 47.67 L541.90 66.46 M398.70 117.57 L434.50 65.86 L470.30 65.61 L506.10 46.54 L541.90 63.92 M398.70 124.89 L434.50 70.77 L470.30 60.94 L506.10 53.05 L541.90 77.06 M398.70 125.19 L434.50 84.79 L470.30 74.38 L506.10 59.77 L541.90 69.00 M398.70 124.61 L434.50 78.96 L470.30 73.73 L506.10 65.18 L541.90 79.16 M398.70 115.00 L434.50 70.87 L470.30 71.82 L506.10 62.45 L541.90 76.72 M398.70 122.28 L434.50 64.76 L470.30 59.17 L506.10 58.37 L541.90 68.91 M398.70 116.82 L434.50 76.61 L470.30 51.96 L506.10 47.10 L541.90 66.26 M398.70 126.99 L434.50 80.05 L470.30 74.63 L506.10 51.82 L541.90 67.85 M398.70 119.07 L434.50 81.41 L470.30 54.74 L506.10 47.89 L541.90 64.32 M398.70 126.84 L434.50 80.86 L470.30 69.44 L506.10 61.42 L541.90 79.38 M398.70 116.47 L434.50 63.23 L470.30 62.72 L506.10 47.74 L541.90 64.84 M398.70 118.62 L434.50 77.89 L470.30 67.13 L506.10 58.15 L541.90 65.06 M398.70 123.21 L434.50 78.58 L470.30 74.62 L506.10 58.54 L541.90 64.15 M398.70 114.81 L434.50 61.16 L470.30 52.01 L506.10 48.06 L541.90 63.26 M398.70 119.99 L434.50 77.20 L470.30 53.43 L506.10 47.89 L541.90 71.45 M398.70 118.29 L434.50 69.03 L470.30 64.63 L506.10 61.11 L541.90 78.88 M398.70 122.05 L434.50 79.30 L470.30 61.95 L506.10 51.66 L541.90 72.82 M398.70 115.26 L434.50 63.99 L470.30 52.70 L506.10 58.42 L541.90 67.43 M398.70 124.28 L434.50 81.80 L470.30 66.67 L506.10 62.88 L541.90 72.34 M398.70 121.39 L434.50 72.67 L470.30 65.85 L506.10 65.44 L541.90 75.57 M398.70 123.98 L434.50 75.30 L470.30 64.98 L506.10 65.26 L541.90 67.05 M398.70 124.45 L434.50 76.35 L470.30 66.59 L506.10 55.43 L541.90 63.11 M398.70 123.44 L434.50 71.49 L470.30 52.11 L506.10 57.18 L541.90 71.28 M398.70 116.20 L434.50 68.07 L470.30 61.63 L506.10 56.31 L541.90 66.43 M398.70 116.36 L434.50 62.42 L470.30 50.79 L506.10 57.50 L541.90 81.32 M398.70 124.74 L434.50 69.69 L470.30 61.58 L506.10 58.73 L541.90 78.31 M398.70 119.59 L434.50 62.27 L470.30 49.14 L506.10 48.73 L541.90 64.18 M398.70 115.78 L434.50 64.23 L470.30 55.76 L506.10 58.48 L541.90 72.73 M398.70 123.50 L434.50 80.01 L470.30 61.96 L506.10 64.43 L541.90 77.37 M398.70 121.84 L434.50 83.87 L470.30 65.54 L506.10 54.38 L541.90 76.96 M398.70 121.59 L434.50 83.88 L470.30 64.18 L506.10 60.82 L541.90 64.97 M398.70 126.29 L434.50 81.07 L470.30 70.04 L506.10 51.50 L541.90 72.84 M398.70 120.82 L434.50 72.61 L470.30 53.44 L506.10 50.37 L541.90 64.06 M398.70 118.24 L434.50 68.38 L470.30 54.83 L506.10 47.94 L541.90 71.34 M398.70 122.79 L434.50 77.71 L470.30 61.81 L506.10 67.30 L541.90 79.48 M398.70 120.33 L434.50 64.96 L470.30 48.92 L506.10 57.47 L541.90 76.41 M398.70 117.98 L434.50 68.85 L470.30 50.14 L506.10 49.74 L541.90 66.78 M398.70 119.45 L434.50 72.82 L470.30 74.63 L506.10 61.64 L541.90 72.59 M398.70 120.40 L434.50 73.35 L470.30 60.67 L506.10 58.52 L541.90 76.10 M398.70 119.85 L434.50 64.34 L470.30 68.56 L506.10 64.12 L541.90 79.13 M398.70 126.05 L434.50 83.29 L470.30 65.76 L506.10 65.82 L541.90 75.44 M398.70 125.02 L434.50 84.86 L470.30 55.51 L506.10 53.95 L541.90 63.04 M398.70 122.40 L434.50 66.14 L470.30 57.26 L506.10 57.27 L541.90 81.94 M398.70 117.17 L434.50 71.98 L470.30 60.42 L506.10 55.92 L541.90 70.34 M398.70 118.85 L434.50 67.00 L470.30 52.10 L506.10 49.95 L541.90 63.35 M398.70 121.93 L434.50 84.32 L470.30 57.56 L506.10 49.65 L541.90 63.80 M398.70 118.54 L434.50 70.32 L470.30 52.25 L506.10 54.43 L541.90 79.14 M398.70 125.40 L434.50 70.38 L470.30 58.48 L506.10 51.52 L541.90 69.62 M398.70 114.49 L434.50 61.61 L470.30 53.63 L506.10 52.94 L541.90 67.78 M398.70 122.99 L434.50 73.52 L470.30 73.62 L506.10 59.46 L541.90 63.89 M398.70 114.29 L434.50 64.54 L470.30 53.01 L506.10 46.72 L541.90 75.03 M398.70 119.04 L434.50 81.76 L470.30 65.32 L506.10 61.73 L541.90 81.22 M398.70 117.61 L434.50 64.56 L470.30 63.53 L506.10 56.00 L541.90 69.96 M398.70 121.09 L434.50 71.41 L470.30 63.34 L506.10 61.14 L541.90 79.28 M398.70 115.88 L434.50 73.62 L470.30 69.34 L506.10 65.04 L541.90 78.43 M398.70 126.16 L434.50 74.81 L470.30 56.17 L506.10 67.62 L541.90 76.97 M398.70 114.46 L434.50 72.13 L470.30 62.99 L506.10 53.50 L541.90 66.08 M398.70 116.06 L434.50 65.10 L470.30 52.63 L506.10 46.51 L541.90 65.44 M398.70 114.66 L434.50 61.78 L470.30 62.79 L506.10 49.52 L541.90 69.29 M398.70 116.77 L434.50 63.46 L470.30 59.30 L506.10 55.61 L541.90 70.72 M398.70 125.49 L434.50 73.40 L470.30 72.19 L506.10 65.53 L541.90 81.59 M398.70 115.52 L434.50 64.60 L470.30 60.25 L506.10 61.58 L541.90 80.35 M398.70 126.68 L434.50 80.72 L470.30 68.80 L506.10 56.09 L541.90 73.80 M398.70 125.77 L434.50 77.74 L470.30 70.18 L506.10 64.97 L541.90 81.76 M398.70 127.21 L434.50 79.48 L470.30 70.18 L506.10 61.70 L541.90 64.81" fill="none" stroke="#D95319" stroke-width="0.55" stroke-linejoin="round"/>
<path d="M398.70 123.37 L434.50 78.25 L470.30 67.65 L506.10 82.00 L541.90 100.95 M398.70 127.96 L434.50 102.92 L470.30 52.65 L506.10 64.06 L541.90 86.31 M398.70 128.44 L434.50 101.87 L470.30 46.92 L506.10 60.86 L541.90 70.49 M398.70 126.87 L434.50 78.76 L470.30 62.92 L506.10 79.89 L541.90 98.70 M398.70 128.66 L434.50 99.95 L470.30 48.51 L506.10 58.36 L541.90 81.39 M398.70 123.69 L434.50 80.24 L470.30 70.54 L506.10 81.58 L541.90 97.75 M398.70 128.58 L434.50 88.57 L470.30 62.80 L506.10 84.37 L541.90 94.62 M398.70 125.89 L434.50 87.03 L470.30 65.71 L506.10 66.13 L541.90 83.32 M398.70 129.18 L434.50 99.18 L470.30 61.40 L506.10 68.13 L541.90 96.79 M398.70 128.15 L434.50 82.88 L470.30 59.99 L506.10 79.26 L541.90 81.68 M398.70 126.13 L434.50 90.64 L470.30 66.00 L506.10 67.98 L541.90 88.85 M398.70 129.62 L434.50 95.44 L470.30 56.25 L506.10 67.13 L541.90 91.42 M398.70 128.84 L434.50 95.94 L470.30 51.83 L506.10 64.69 L541.90 78.80 M398.70 125.94 L434.50 81.22 L470.30 70.43 L506.10 69.04 L541.90 87.00 M398.70 124.77 L434.50 84.97 L470.30 59.75 L506.10 83.16 L541.90 101.34 M398.70 124.26 L434.50 79.82 L470.30 67.20 L506.10 76.56 L541.90 86.72 M398.70 125.53 L434.50 84.60 L470.30 62.14 L506.10 55.03 L541.90 85.24 M398.70 128.28 L434.50 101.10 L470.30 49.01 L506.10 60.39 L541.90 87.05 M398.70 124.57 L434.50 78.52 L470.30 70.82 L506.10 79.93 L541.90 93.23 M398.70 123.64 L434.50 82.40 L470.30 71.43 L506.10 82.33 L541.90 99.72 M398.70 128.96 L434.50 93.51 L470.30 58.23 L506.10 55.37 L541.90 79.73 M398.70 126.84 L434.50 89.61 L470.30 62.81 L506.10 66.64 L541.90 80.05 M398.70 129.40 L434.50 93.96 L470.30 65.75 L506.10 75.07 L541.90 93.59 M398.70 123.78 L434.50 83.86 L470.30 62.02 L506.10 66.56 L541.90 95.51 M398.70 124.50 L434.50 78.27 L470.30 59.46 L506.10 67.51 L541.90 91.57 M398.70 129.53 L434.50 99.77 L470.30 46.39 L506.10 61.59 L541.90 72.73 M398.70 124.87 L434.50 77.77 L470.30 68.92 L506.10 74.24 L541.90 78.25 M398.70 128.84 L434.50 101.32 L470.30 52.44 L506.10 54.94 L541.90 72.06 M398.70 126.54 L434.50 97.00 L470.30 52.32 L506.10 59.75 L541.90 75.71 M398.70 127.27 L434.50 94.56 L470.30 53.86 L506.10 66.66 L541.90 82.03 M398.70 125.32 L434.50 78.75 L470.30 69.01 L506.10 65.42 L541.90 101.17 M398.70 126.70 L434.50 101.82 L470.30 46.72 L506.10 61.99 L541.90 74.21 M398.70 125.18 L434.50 80.64 L470.30 68.59 L506.10 83.09 L541.90 76.47 M398.70 127.55 L434.50 93.96 L470.30 59.86 L506.10 81.05 L541.90 87.61 M398.70 123.99 L434.50 96.48 L470.30 49.12 L506.10 54.92 L541.90 89.88 M398.70 124.71 L434.50 85.96 L470.30 71.06 L506.10 72.39 L541.90 87.25 M398.70 122.51 L434.50 90.05 L470.30 67.11 L506.10 75.79 L541.90 85.33 M398.70 128.48 L434.50 101.45 L470.30 52.44 L506.10 57.53 L541.90 72.96 M398.70 124.04 L434.50 78.86 L470.30 65.48 L506.10 62.26 L541.90 77.68 M398.70 122.71 L434.50 78.48 L470.30 65.73 L506.10 77.75 L541.90 98.56 M398.70 125.42 L434.50 87.52 L470.30 59.02 L506.10 77.25 L541.90 100.26 M398.70 125.50 L434.50 82.03 L470.30 62.84 L506.10 78.86 L541.90 98.12 M398.70 127.47 L434.50 93.60 L470.30 52.64 L506.10 67.56 L541.90 78.66 M398.70 127.72 L434.50 89.14 L470.30 61.71 L506.10 72.53 L541.90 95.13 M398.70 123.47 L434.50 79.26 L470.30 70.52 L506.10 65.73 L541.90 72.11 M398.70 125.81 L434.50 82.67 L470.30 68.14 L506.10 82.39 L541.90 95.29 M398.70 126.23 L434.50 88.60 L470.30 57.68 L506.10 83.24 L541.90 91.43 M398.70 123.87 L434.50 90.43 L470.30 65.40 L506.10 70.02 L541.90 88.67 M398.70 129.32 L434.50 100.29 L470.30 53.97 L506.10 55.22 L541.90 76.07 M398.70 125.69 L434.50 81.45 L470.30 67.53 L506.10 69.39 L541.90 71.27 M398.70 124.23 L434.50 78.36 L470.30 67.31 L506.10 81.56 L541.90 97.47 M398.70 125.04 L434.50 95.05 L470.30 51.56 L506.10 56.96 L541.90 88.01 M398.70 124.11 L434.50 80.93 L470.30 71.20 L506.10 76.93 L541.90 82.65 M398.70 124.98 L434.50 90.26 L470.30 59.65 L506.10 68.69 L541.90 71.83 M398.70 123.05 L434.50 81.66 L470.30 68.67 L506.10 71.79 L541.90 76.97 M398.70 127.76 L434.50 96.09 L470.30 51.72 L506.10 65.07 L541.90 80.43 M398.70 125.25 L434.50 79.83 L470.30 71.79 L506.10 64.03 L541.90 74.29 M398.70 122.65 L434.50 78.70 L470.30 70.28 L506.10 83.60 L541.90 88.10 M398.70 126.01 L434.50 83.41 L470.30 65.28 L506.10 74.76 L541.90 81.34 M398.70 127.07 L434.50 94.74 L470.30 52.59 L506.10 64.26 L541.90 82.60 M398.70 123.27 L434.50 83.60 L470.30 62.12 L506.10 74.54 L541.90 99.14 M398.70 123.59 L434.50 81.49 L470.30 68.65 L506.10 78.95 L541.90 89.09 M398.70 122.80 L434.50 79.77 L470.30 63.45 L506.10 63.46 L541.90 71.95 M398.70 127.59 L434.50 96.00 L470.30 48.69 L506.10 60.75 L541.90 78.38 M398.70 129.32 L434.50 102.16 L470.30 51.73 L506.10 59.85 L541.90 73.34 M398.70 123.02 L434.50 80.33 L470.30 71.86 L506.10 78.78 L541.90 91.45 M398.70 127.16 L434.50 93.34 L470.30 50.76 L506.10 56.16 L541.90 70.49 M398.70 127.88 L434.50 78.64 L470.30 62.51 L506.10 82.63 L541.90 91.02 M398.70 128.12 L434.50 95.22 L470.30 57.78 L506.10 56.76 L541.90 87.30 M398.70 127.22 L434.50 95.40 L470.30 56.56 L506.10 57.73 L541.90 73.03 M398.70 124.44 L434.50 79.22 L470.30 71.42 L506.10 65.66 L541.90 70.68 M398.70 126.32 L434.50 79.10 L470.30 71.45 L506.10 77.62 L541.90 102.04 M398.70 129.15 L434.50 98.54 L470.30 55.20 L506.10 70.18 L541.90 94.10 M398.70 126.67 L434.50 89.36 L470.30 52.92 L506.10 64.29 L541.90 77.65 M398.70 128.73 L434.50 102.11 L470.30 54.99 L506.10 64.11 L541.90 97.33 M398.70 123.33 L434.50 86.34 L470.30 62.82 L506.10 69.32 L541.90 85.24 M398.70 122.82 L434.50 78.05 L470.30 69.35 L506.10 81.86 L541.90 94.20 M398.70 123.14 L434.50 80.58 L470.30 71.06 L506.10 80.04 L541.90 97.42 M398.70 124.32 L434.50 82.55 L470.30 58.66 L506.10 76.77 L541.90 83.36 M398.70 126.44 L434.50 102.43 L470.30 47.22 L506.10 57.57 L541.90 78.79 M398.70 125.67 L434.50 93.61 L470.30 58.62 L506.10 79.45 L541.90 93.61 M398.70 126.50 L434.50 83.17 L470.30 65.62 L506.10 76.98 L541.90 97.97 M398.70 126.22 L434.50 90.45 L470.30 57.86 L506.10 71.85 L541.90 87.25 M398.70 124.90 L434.50 80.78 L470.30 65.37 L506.10 70.08 L541.90 88.88 M398.70 127.36 L434.50 96.15 L470.30 51.68 L506.10 60.04 L541.90 72.52 M398.70 129.04 L434.50 96.69 L470.30 53.68 L506.10 75.38 L541.90 95.59 M398.70 127.99 L434.50 97.61 L470.30 51.37 L506.10 54.81 L541.90 88.09 M398.70 128.29 L434.50 100.90 L470.30 52.67 L506.10 60.28 L541.90 83.21 M398.70 127.00 L434.50 94.13 L470.30 62.31 L506.10 56.05 L541.90 90.82 M398.70 122.96 L434.50 83.34 L470.30 68.12 L506.10 83.64 L541.90 86.20" fill="none" stroke="#EDB120" stroke-width="0.6" stroke-linejoin="round"/>
<path d="M398.70 122.86 L434.50 89.22 L470.30 43.50 L506.10 62.88 L541.90 75.10 M398.70 124.69 L434.50 89.84 L470.30 43.06 L506.10 58.18 L541.90 78.34 M398.70 124.33 L434.50 88.92 L470.30 46.75 L506.10 62.22 L541.90 87.26 M398.70 124.57 L434.50 98.16 L470.30 48.56 L506.10 57.24 L541.90 90.94 M398.70 126.72 L434.50 98.16 L470.30 45.10 L506.10 66.27 L541.90 85.08 M398.70 126.63 L434.50 94.03 L470.30 47.56 L506.10 67.29 L541.90 85.00" fill="none" stroke="#EDB120" stroke-width="0.6" stroke-linejoin="round"/>
<path d="M398.70 15.30 L398.70 134.40 L541.90 134.40" fill="none" stroke="#8c8c8c" stroke-width="1"/>
<path d="M398.70 134.40 h1.5 M398.70 110.58 h1.5 M398.70 86.76 h1.5 M398.70 62.94 h1.5 M398.70 39.12 h1.5 M398.70 15.30 h1.5 M434.50 134.40 v-1.5 M470.30 134.40 v-1.5 M506.10 134.40 v-1.5 M541.90 134.40 v-1.5" stroke="#8c8c8c" stroke-width="0.8"/>
<text x="395.20" y="137.40" text-anchor="end" class="t">0</text>
<text x="395.20" y="113.58" text-anchor="end" class="t">0.1</text>
<text x="395.20" y="89.76" text-anchor="end" class="t">0.2</text>
<text x="395.20" y="65.94" text-anchor="end" class="t">0.3</text>
<text x="395.20" y="42.12" text-anchor="end" class="t">0.4</text>
<text x="395.20" y="18.30" text-anchor="end" class="t">0.5</text>
<text x="398.70" y="146.50" text-anchor="middle" class="t">f1</text>
<text x="434.50" y="146.50" text-anchor="middle" class="t">f2</text>
<text x="470.30" y="146.50" text-anchor="middle" class="t">f3</text>
<text x="506.10" y="146.50" text-anchor="middle" class="t">f4</text>
<text x="541.90" y="146.50" text-anchor="middle" class="t">f5</text>
<text x="470.30" y="11.70" text-anchor="middle" class="ti">Third</text>
<path d="M21.50 288.54 L57.30 240.79 L93.10 218.80 L128.90 225.04 L164.70 236.55 M21.50 291.99 L57.30 246.12 L93.10 219.12 L128.90 229.07 L164.70 236.04 M21.50 290.15 L57.30 242.38 L93.10 212.27 L128.90 231.48 L164.70 228.88 M21.50 286.57 L57.30 243.92 L93.10 205.45 L128.90 237.80 L164.70 244.46 M21.50 290.71 L57.30 251.68 L93.10 198.06 L128.90 235.87 L164.70 232.62 M21.50 285.41 L57.30 229.81 L93.10 213.60 L128.90 229.89 L164.70 232.33 M21.50 287.20 L57.30 241.86 L93.10 211.66 L128.90 232.17 L164.70 245.14 M21.50 287.63 L57.30 239.47 L93.10 227.35 L128.90 226.17 L164.70 229.86 M21.50 287.89 L57.30 248.13 L93.10 200.39 L128.90 241.05 L164.70 244.90 M21.50 289.82 L57.30 249.68 L93.10 205.21 L128.90 237.25 L164.70 246.72 M21.50 292.09 L57.30 246.56 L93.10 222.63 L128.90 228.62 L164.70 237.44 M21.50 287.99 L57.30 246.79 L93.10 215.11 L128.90 229.83 L164.70 232.25 M21.50 291.96 L57.30 252.47 L93.10 205.59 L128.90 236.27 L164.70 247.46 M21.50 282.74 L57.30 227.22 L93.10 214.17 L128.90 232.33 L164.70 237.40 M21.50 284.21 L57.30 230.98 L93.10 203.60 L128.90 233.81 L164.70 234.02 M21.50 283.04 L57.30 232.87 L93.10 218.39 L128.90 230.28 L164.70 227.10 M21.50 284.85 L57.30 240.89 L93.10 223.31 L128.90 227.86 L164.70 232.99 M21.50 291.14 L57.30 252.31 L93.10 202.52 L128.90 237.04 L164.70 245.89 M21.50 286.84 L57.30 236.98 L93.10 221.89 L128.90 231.86 L164.70 240.47 M21.50 291.65 L57.30 245.77 L93.10 209.28 L128.90 237.43 L164.70 248.35 M21.50 284.43 L57.30 227.11 L93.10 220.34 L128.90 228.27 L164.70 237.35 M21.50 286.41 L57.30 245.54 L93.10 215.40 L128.90 230.29 L164.70 236.50 M21.50 290.95 L57.30 237.89 L93.10 224.98 L128.90 227.04 L164.70 247.26 M21.50 286.25 L57.30 229.56 L93.10 216.24 L128.90 230.60 L164.70 236.66 M21.50 285.65 L57.30 244.02 L93.10 220.44 L128.90 226.68 L164.70 228.22 M21.50 291.61 L57.30 251.10 L93.10 201.31 L128.90 241.49 L164.70 239.81 M21.50 284.99 L57.30 238.21 L93.10 224.19 L128.90 231.12 L164.70 246.56 M21.50 290.20 L57.30 230.56 L93.10 223.34 L128.90 223.93 L164.70 228.82 M21.50 286.49 L57.30 235.57 L93.10 226.60 L128.90 223.98 L164.70 229.48 M21.50 283.34 L57.30 227.21 L93.10 221.72 L128.90 231.21 L164.70 237.01 M21.50 287.46 L57.30 242.66 L93.10 207.21 L128.90 230.91 L164.70 229.87 M21.50 285.56 L57.30 230.54 L93.10 219.91 L128.90 224.56 L164.70 227.45 M21.50 283.53 L57.30 234.83 L93.10 224.10 L128.90 224.27 L164.70 228.96 M21.50 283.20 L57.30 226.44 L93.10 211.82 L128.90 234.85 L164.70 245.14 M21.50 288.84 L57.30 239.87 L93.10 211.83 L128.90 234.98 L164.70 248.99 M21.50 288.33 L57.30 238.32 L93.10 224.09 L128.90 229.62 L164.70 235.30 M21.50 285.24 L57.30 241.46 L93.10 205.00 L128.90 238.18 L164.70 244.56 M21.50 285.10 L57.30 229.39 L93.10 227.38 L128.90 228.03 L164.70 240.30 M21.50 287.36 L57.30 244.45 L93.10 227.30 L128.90 225.78 L164.70 236.21 M21.50 289.48 L57.30 236.18 L93.10 217.59 L128.90 224.96 L164.70 230.68 M21.50 286.11 L57.30 233.00 L93.10 203.73 L128.90 236.05 L164.70 237.79 M21.50 288.35 L57.30 243.60 L93.10 213.86 L128.90 236.69 L164.70 240.90 M21.50 284.74 L57.30 230.13 L93.10 219.53 L128.90 233.94 L164.70 239.58 M21.50 283.62 L57.30 228.76 L93.10 217.36 L128.90 225.76 L164.70 236.65 M21.50 287.06 L57.30 247.07 L93.10 219.37 L128.90 223.45 L164.70 227.35 M21.50 282.72 L57.30 230.38 L93.10 211.05 L128.90 232.37 L164.70 229.15 M21.50 290.43 L57.30 247.83 L93.10 221.10 L128.90 230.07 L164.70 238.00 M21.50 290.80 L57.30 248.86 L93.10 200.97 L128.90 239.94 L164.70 238.91 M21.50 284.62 L57.30 238.01 L93.10 224.80 L128.90 226.34 L164.70 235.78 M21.50 285.90 L57.30 229.27 L93.10 213.96 L128.90 225.16 L164.70 231.48 M21.50 289.04 L57.30 231.68 L93.10 221.64 L128.90 228.11 L164.70 243.26 M21.50 287.81 L57.30 244.92 L93.10 210.33 L128.90 235.08 L164.70 234.48 M21.50 290.59 L57.30 241.49 L93.10 209.54 L128.90 237.81 L164.70 248.91 M21.50 289.55 L57.30 239.87 L93.10 200.37 L128.90 236.75 L164.70 239.84 M21.50 287.13 L57.30 242.28 L93.10 225.71 L128.90 226.74 L164.70 234.16 M21.50 291.85 L57.30 227.56 L93.10 217.75 L128.90 228.78 L164.70 228.02 M21.50 283.84 L57.30 228.59 L93.10 227.36 L128.90 224.56 L164.70 227.68 M21.50 284.87 L57.30 249.30 L93.10 209.08 L128.90 230.64 L164.70 235.34 M21.50 286.73 L57.30 226.35 L93.10 210.39 L128.90 228.68 L164.70 235.09 M21.50 288.97 L57.30 249.34 L93.10 201.20 L128.90 239.24 L164.70 242.21 M21.50 285.99 L57.30 239.95 L93.10 210.74 L128.90 225.49 L164.70 232.58 M21.50 289.33 L57.30 228.94 L93.10 223.34 L128.90 228.63 L164.70 237.60 M21.50 291.45 L57.30 239.33 L93.10 222.98 L128.90 223.67 L164.70 236.59 M21.50 289.22 L57.30 241.37 L93.10 214.99 L128.90 225.49 L164.70 228.91 M21.50 286.13 L57.30 238.75 L93.10 202.17 L128.90 235.67 L164.70 244.22 M21.50 286.90 L57.30 242.36 L93.10 219.76 L128.90 230.26 L164.70 227.83 M21.50 291.27 L57.30 252.49 L93.10 206.04 L128.90 237.67 L164.70 239.50 M21.50 288.09 L57.30 244.31 L93.10 202.25 L128.90 238.08 L164.70 236.45 M21.50 284.07 L57.30 237.13 L93.10 226.42 L128.90 223.20 L164.70 233.04 M21.50 284.38 L57.30 235.28 L93.10 226.00 L128.90 228.99 L164.70 232.91 M21.50 291.42 L57.30 247.88 L93.10 208.35 L128.90 233.29 L164.70 234.41 M21.50 283.74 L57.30 232.23 L93.10 209.16 L128.90 234.79 L164.70 241.38 M21.50 288.75 L57.30 241.59 L93.10 198.66 L128.90 235.14 L164.70 237.36 M21.50 284.19 L57.30 236.71 L93.10 226.56 L128.90 227.23 L164.70 231.75 M21.50 285.79 L57.30 234.21 L93.10 221.62 L128.90 232.96 L164.70 238.44 M21.50 289.11 L57.30 236.89 L93.10 207.26 L128.90 234.68 L164.70 239.91 M21.50 289.95 L57.30 251.42 L93.10 218.02 L128.90 231.85 L164.70 244.50 M21.50 289.89 L57.30 249.01 L93.10 203.96 L128.90 228.50 L164.70 238.33 M21.50 282.85 L57.30 228.52 L93.10 205.43 L128.90 241.50 L164.70 238.14 M21.50 288.58 L57.30 239.46 L93.10 216.98 L128.90 228.75 L164.70 241.87 M21.50 285.34 L57.30 229.01 L93.10 227.24 L128.90 228.10 L164.70 230.01 M21.50 283.08 L57.30 232.81 L93.10 206.04 L128.90 239.80 L164.70 235.89 M21.50 290.57 L57.30 241.76 L93.10 222.47 L128.90 227.87 L164.70 228.25 M21.50 283.43 L57.30 239.28 L93.10 209.12 L128.90 235.14 L164.70 238.86 M21.50 290.33 L57.30 241.41 L93.10 225.89 L128.90 229.15 L164.70 231.57 M21.50 289.65 L57.30 248.92 L93.10 205.29 L128.90 240.80 L164.70 235.95 M21.50 283.94 L57.30 249.72 L93.10 209.62 L128.90 227.19 L164.70 247.44 M21.50 287.55 L57.30 250.33 L93.10 199.35 L128.90 240.35 L164.70 247.24 M21.50 288.24 L57.30 231.17 L93.10 217.50 L128.90 225.48 L164.70 235.07 M21.50 291.08 L57.30 248.29 L93.10 224.31 L128.90 228.22 L164.70 236.95" fill="none" stroke="#0072BD" stroke-width="0.45" stroke-linejoin="round"/>
<path d="M21.50 292.03 L57.30 260.76 L93.10 213.77 L128.90 228.37 L164.70 240.71 M21.50 288.70 L57.30 253.68 L93.10 232.81 L128.90 242.96 L164.70 244.71 M21.50 289.69 L57.30 259.88 L93.10 214.24 L128.90 227.64 L164.70 244.89 M21.50 290.34 L57.30 255.79 L93.10 222.99 L128.90 235.57 L164.70 242.00 M21.50 287.48 L57.30 256.28 L93.10 216.63 L128.90 233.24 L164.70 246.77 M21.50 291.13 L57.30 256.54 L93.10 218.82 L128.90 230.14 L164.70 244.89 M21.50 288.30 L57.30 253.30 L93.10 229.36 L128.90 241.55 L164.70 246.14 M21.50 289.61 L57.30 251.54 L93.10 232.00 L128.90 246.03 L164.70 251.83 M21.50 287.77 L57.30 246.14 L93.10 236.62 L128.90 242.98 L164.70 250.61 M21.50 286.52 L57.30 248.12 L93.10 234.67 L128.90 242.72 L164.70 247.80 M21.50 289.86 L57.30 246.37 L93.10 228.35 L128.90 244.31 L164.70 248.27 M21.50 290.67 L57.30 255.23 L93.10 228.17 L128.90 236.18 L164.70 247.44 M21.50 293.11 L57.30 255.24 L93.10 220.50 L128.90 238.33 L164.70 244.86 M21.50 289.23 L57.30 246.58 L93.10 233.62 L128.90 243.80 L164.70 250.00 M21.50 292.60 L57.30 259.26 L93.10 218.77 L128.90 231.04 L164.70 246.58 M21.50 292.68 L57.30 260.07 L93.10 212.70 L128.90 226.64 L164.70 242.05 M21.50 288.90 L57.30 246.04 L93.10 236.94 L128.90 244.34 L164.70 243.29 M21.50 287.01 L57.30 247.80 L93.10 228.59 L128.90 236.04 L164.70 237.41 M21.50 291.41 L57.30 255.37 L93.10 221.87 L128.90 238.59 L164.70 244.10 M21.50 289.03 L57.30 248.40 L93.10 231.13 L128.90 241.29 L164.70 250.53 M21.50 291.50 L57.30 262.37 L93.10 214.31 L128.90 226.55 L164.70 237.80 M21.50 288.54 L57.30 248.61 L93.10 234.19 L128.90 245.80 L164.70 251.98 M21.50 288.74 L57.30 249.14 L93.10 227.07 L128.90 240.57 L164.70 250.49 M21.50 287.13 L57.30 247.18 L93.10 234.96 L128.90 245.68 L164.70 253.90 M21.50 289.45 L57.30 249.24 L93.10 229.28 L128.90 246.20 L164.70 246.96 M21.50 293.94 L57.30 259.88 L93.10 216.66 L128.90 230.94 L164.70 247.17 M21.50 292.11 L57.30 257.78 L93.10 216.72 L128.90 230.21 L164.70 237.87 M21.50 291.05 L57.30 252.95 L93.10 222.88 L128.90 234.31 L164.70 240.97 M21.50 291.62 L57.30 263.22 L93.10 214.56 L128.90 228.26 L164.70 236.06 M21.50 287.95 L57.30 256.22 L93.10 224.65 L128.90 236.20 L164.70 253.89 M21.50 293.41 L57.30 260.79 L93.10 215.74 L128.90 231.33 L164.70 237.38 M21.50 286.75 L57.30 246.00 L93.10 234.42 L128.90 243.06 L164.70 251.21 M21.50 292.26 L57.30 259.08 L93.10 224.76 L128.90 235.92 L164.70 249.16 M21.50 293.66 L57.30 252.87 L93.10 218.38 L128.90 227.08 L164.70 236.32 M21.50 288.00 L57.30 246.18 L93.10 231.66 L128.90 243.45 L164.70 248.62 M21.50 287.65 L57.30 246.85 L93.10 237.19 L128.90 243.40 L164.70 244.88 M21.50 290.10 L57.30 254.16 L93.10 221.24 L128.90 235.87 L164.70 252.76 M21.50 293.25 L57.30 253.32 L93.10 221.43 L128.90 231.90 L164.70 238.28 M21.50 289.80 L57.30 253.98 L93.10 224.43 L128.90 239.13 L164.70 249.04 M21.50 289.48 L57.30 251.65 L93.10 226.70 L128.90 235.93 L164.70 238.01 M21.50 294.52 L57.30 260.20 L93.10 216.97 L128.90 225.60 L164.70 238.37 M21.50 291.24 L57.30 247.78 L93.10 230.85 L128.90 241.42 L164.70 245.69 M21.50 289.93 L57.30 255.09 L93.10 227.53 L128.90 236.24 L164.70 242.55 M21.50 290.98 L57.30 259.41 L93.10 215.78 L128.90 225.33 L164.70 240.41 M21.50 291.92 L57.30 262.17 L93.10 213.68 L128.90 229.12 L164.70 236.17 M21.50 286.22 L57.30 252.42 L93.10 227.06 L128.90 237.88 L164.70 244.92 M21.50 294.07 L57.30 260.20 L93.10 216.11 L128.90 230.81 L164.70 242.67 M21.50 290.11 L57.30 260.48 L93.10 216.73 L128.90 231.64 L164.70 240.53 M21.50 292.79 L57.30 255.77 L93.10 222.57 L128.90 227.65 L164.70 236.96 M21.50 292.90 L57.30 261.29 L93.10 213.02 L128.90 225.82 L164.70 242.66 M21.50 290.57 L57.30 252.72 L93.10 234.16 L128.90 246.60 L164.70 253.17 M21.50 286.87 L57.30 249.05 L93.10 230.82 L128.90 239.39 L164.70 250.86 M21.50 290.38 L57.30 260.33 L93.10 219.60 L128.90 231.89 L164.70 240.71 M21.50 286.31 L57.30 250.01 L93.10 236.51 L128.90 246.69 L164.70 251.35 M21.50 286.81 L57.30 250.81 L93.10 228.32 L128.90 238.23 L164.70 253.20 M21.50 293.89 L57.30 250.60 L93.10 235.13 L128.90 243.16 L164.70 253.06 M21.50 290.23 L57.30 259.15 L93.10 216.11 L128.90 234.48 L164.70 242.46 M21.50 290.91 L57.30 248.46 L93.10 228.26 L128.90 237.53 L164.70 244.17 M21.50 294.45 L57.30 261.96 L93.10 211.07 L128.90 226.74 L164.70 243.00 M21.50 288.83 L57.30 247.67 L93.10 231.95 L128.90 241.86 L164.70 248.82 M21.50 287.79 L57.30 245.66 L93.10 234.97 L128.90 241.52 L164.70 252.39 M21.50 286.60 L57.30 245.76 L93.10 231.74 L128.90 240.47 L164.70 251.94 M21.50 288.09 L57.30 250.51 L93.10 229.92 L128.90 242.66 L164.70 252.30 M21.50 286.45 L57.30 249.45 L93.10 221.49 L128.90 232.12 L164.70 253.79 M21.50 293.01 L57.30 259.93 L93.10 214.08 L128.90 227.53 L164.70 238.17 M21.50 294.23 L57.30 259.52 L93.10 222.46 L128.90 234.57 L164.70 241.19 M21.50 290.55 L57.30 255.31 L93.10 225.04 L128.90 239.33 L164.70 242.30 M21.50 290.83 L57.30 253.94 L93.10 226.20 L128.90 239.24 L164.70 240.93 M21.50 292.23 L57.30 252.31 L93.10 226.01 L128.90 237.63 L164.70 249.82 M21.50 292.38 L57.30 252.40 L93.10 229.56 L128.90 243.32 L164.70 250.84 M21.50 291.77 L57.30 255.95 L93.10 221.39 L128.90 232.93 L164.70 238.48 M21.50 288.19 L57.30 256.60 L93.10 221.74 L128.90 235.32 L164.70 238.69 M21.50 289.16 L57.30 246.62 L93.10 234.39 L128.90 241.21 L164.70 241.61 M21.50 293.50 L57.30 260.46 L93.10 216.07 L128.90 228.41 L164.70 238.33 M21.50 289.33 L57.30 250.57 L93.10 228.07 L128.90 242.51 L164.70 250.96 M21.50 291.81 L57.30 258.33 L93.10 217.62 L128.90 236.13 L164.70 239.88 M21.50 287.38 L57.30 247.60 L93.10 234.72 L128.90 246.03 L164.70 244.49 M21.50 294.31 L57.30 259.25 L93.10 219.36 L128.90 231.86 L164.70 239.52 M21.50 288.34 L57.30 249.37 L93.10 232.08 L128.90 242.18 L164.70 245.33 M21.50 292.45 L57.30 256.31 L93.10 217.84 L128.90 229.54 L164.70 240.64 M21.50 293.80 L57.30 256.73 L93.10 217.31 L128.90 231.01 L164.70 253.70 M21.50 291.40 L57.30 250.55 L93.10 219.53 L128.90 233.38 L164.70 252.10 M21.50 292.85 L57.30 261.40 L93.10 213.92 L128.90 232.88 L164.70 244.94 M21.50 288.44 L57.30 245.84 L93.10 234.56 L128.90 244.33 L164.70 246.13 M21.50 287.59 L57.30 251.17 L93.10 229.42 L128.90 241.40 L164.70 242.97 M21.50 294.16 L57.30 259.82 L93.10 214.87 L128.90 232.67 L164.70 246.06 M21.50 287.21 L57.30 247.16 L93.10 234.25 L128.90 242.51 L164.70 252.66 M21.50 287.28 L57.30 250.95 L93.10 229.97 L128.90 237.71 L164.70 240.27 M21.50 293.57 L57.30 256.65 L93.10 217.66 L128.90 227.75 L164.70 242.13 M21.50 293.34 L57.30 256.39 L93.10 223.28 L128.90 237.22 L164.70 246.84" fill="none" stroke="#D95319" stroke-width="0.55" stroke-linejoin="round"/>
<path d="M21.50 295.49 L57.30 269.84 L93.10 243.00 L128.90 258.31 L164.70 264.05 M21.50 292.49 L57.30 259.57 L93.10 238.80 L128.90 246.60 L164.70 248.31 M21.50 292.76 L57.30 256.45 L93.10 240.00 L128.90 248.81 L164.70 241.30 M21.50 295.51 L57.30 255.93 L93.10 241.92 L128.90 259.02 L164.70 264.82 M21.50 293.28 L57.30 252.50 L93.10 236.91 L128.90 253.12 L164.70 240.30 M21.50 295.13 L57.30 254.65 L93.10 236.84 L128.90 252.55 L164.70 264.43 M21.50 292.22 L57.30 262.14 L93.10 242.01 L128.90 260.22 L164.70 258.83 M21.50 291.79 L57.30 254.32 L93.10 238.17 L128.90 246.52 L164.70 262.64 M21.50 293.81 L57.30 257.13 L93.10 237.75 L128.90 248.35 L164.70 264.38 M21.50 296.84 L57.30 272.59 L93.10 239.50 L128.90 258.49 L164.70 258.88 M21.50 293.62 L57.30 264.63 L93.10 237.80 L128.90 255.19 L164.70 247.40 M21.50 292.14 L57.30 261.98 L93.10 242.97 L128.90 254.39 L164.70 259.72 M21.50 292.92 L57.30 258.13 L93.10 241.70 L128.90 250.40 L164.70 262.33 M21.50 294.31 L57.30 252.61 L93.10 239.50 L128.90 249.11 L164.70 270.44 M21.50 292.30 L57.30 264.46 L93.10 241.57 L128.90 248.06 L164.70 250.13 M21.50 296.84 L57.30 265.28 L93.10 242.90 L128.90 259.40 L164.70 252.78 M21.50 293.06 L57.30 256.49 L93.10 239.72 L128.90 247.75 L164.70 260.93 M21.50 295.30 L57.30 269.24 L93.10 240.69 L128.90 257.03 L164.70 263.12 M21.50 294.53 L57.30 264.63 L93.10 241.48 L128.90 252.92 L164.70 257.32 M21.50 295.69 L57.30 254.45 L93.10 239.55 L128.90 259.51 L164.70 263.86 M21.50 296.39 L57.30 259.02 L93.10 239.47 L128.90 256.03 L164.70 244.07 M21.50 293.58 L57.30 254.45 L93.10 238.01 L128.90 248.18 L164.70 263.40 M21.50 295.97 L57.30 256.58 L93.10 237.26 L128.90 247.54 L164.70 244.37 M21.50 296.52 L57.30 270.82 L93.10 240.68 L128.90 252.17 L164.70 269.25 M21.50 296.26 L57.30 257.00 L93.10 240.26 L128.90 250.96 L164.70 263.09 M21.50 294.38 L57.30 264.43 L93.10 239.60 L128.90 253.08 L164.70 248.64 M21.50 293.80 L57.30 263.11 L93.10 240.82 L128.90 254.81 L164.70 262.05 M21.50 293.55 L57.30 262.09 L93.10 243.17 L128.90 258.47 L164.70 256.05 M21.50 296.81 L57.30 269.07 L93.10 238.29 L128.90 256.74 L164.70 263.62 M21.50 294.22 L57.30 265.81 L93.10 242.09 L128.90 254.74 L164.70 266.88 M21.50 292.53 L57.30 262.06 L93.10 240.04 L128.90 251.59 L164.70 254.69 M21.50 296.46 L57.30 273.06 L93.10 241.23 L128.90 258.81 L164.70 263.26 M21.50 294.05 L57.30 264.79 L93.10 240.06 L128.90 254.97 L164.70 267.98 M21.50 293.63 L57.30 252.17 L93.10 237.99 L128.90 251.12 L164.70 250.34 M21.50 294.46 L57.30 269.04 L93.10 242.73 L128.90 248.64 L164.70 259.93 M21.50 292.16 L57.30 268.38 L93.10 239.96 L128.90 254.85 L164.70 258.48 M21.50 295.56 L57.30 266.94 L93.10 241.13 L128.90 257.97 L164.70 257.83 M21.50 296.85 L57.30 268.34 L93.10 242.62 L128.90 258.72 L164.70 262.00 M21.50 294.17 L57.30 259.86 L93.10 238.08 L128.90 255.50 L164.70 258.94 M21.50 293.50 L57.30 267.39 L93.10 242.74 L128.90 259.38 L164.70 259.12 M21.50 293.35 L57.30 265.64 L93.10 242.98 L128.90 257.38 L164.70 266.76 M21.50 296.12 L57.30 269.32 L93.10 242.54 L128.90 256.76 L164.70 267.44 M21.50 294.40 L57.30 264.43 L93.10 240.77 L128.90 258.31 L164.70 257.11 M21.50 295.65 L57.30 252.08 L93.10 236.77 L128.90 259.61 L164.70 255.39 M21.50 296.51 L57.30 252.93 L93.10 242.65 L128.90 252.87 L164.70 257.47 M21.50 295.65 L57.30 272.23 L93.10 241.60 L128.90 251.32 L164.70 269.19 M21.50 293.46 L57.30 261.27 L93.10 240.53 L128.90 256.00 L164.70 262.07 M21.50 292.02 L57.30 260.58 L93.10 237.16 L128.90 247.08 L164.70 242.51 M21.50 291.89 L57.30 265.75 L93.10 240.48 L128.90 250.42 L164.70 251.96 M21.50 293.04 L57.30 251.65 L93.10 236.14 L128.90 250.11 L164.70 247.02 M21.50 293.48 L57.30 253.17 L93.10 238.11 L128.90 247.05 L164.70 246.91 M21.50 292.82 L57.30 255.55 L93.10 239.81 L128.90 246.30 L164.70 257.07 M21.50 291.51 L57.30 258.08 L93.10 236.92 L128.90 247.37 L164.70 243.32 M21.50 296.46 L57.30 270.76 L93.10 243.01 L128.90 259.15 L164.70 260.38 M21.50 293.32 L57.30 259.37 L93.10 236.29 L128.90 249.78 L164.70 247.85 M21.50 292.66 L57.30 253.10 L93.10 236.59 L128.90 247.33 L164.70 243.55 M21.50 294.17 L57.30 260.62 L93.10 243.09 L128.90 250.24 L164.70 246.95 M21.50 291.81 L57.30 255.63 L93.10 239.51 L128.90 253.79 L164.70 266.03 M21.50 292.32 L57.30 255.25 L93.10 237.69 L128.90 246.50 L164.70 257.14 M21.50 291.45 L57.30 268.39 L93.10 236.41 L128.90 250.35 L164.70 247.84 M21.50 295.35 L57.30 269.03 L93.10 238.41 L128.90 260.34 L164.70 264.79 M21.50 294.52 L57.30 260.66 L93.10 238.61 L128.90 255.78 L164.70 248.03 M21.50 292.91 L57.30 255.98 L93.10 240.04 L128.90 253.94 L164.70 240.81 M21.50 296.49 L57.30 270.98 L93.10 242.91 L128.90 254.19 L164.70 262.49 M21.50 292.99 L57.30 266.09 L93.10 239.47 L128.90 260.52 L164.70 260.91 M21.50 294.89 L57.30 265.55 L93.10 239.69 L128.90 254.07 L164.70 269.98 M21.50 293.39 L57.30 257.63 L93.10 239.05 L128.90 248.41 L164.70 256.53 M21.50 295.30 L57.30 264.63 L93.10 239.19 L128.90 261.05 L164.70 259.51 M21.50 293.39 L57.30 254.33 L93.10 237.91 L128.90 250.52 L164.70 240.84 M21.50 292.84 L57.30 254.79 L93.10 240.46 L128.90 248.78 L164.70 240.60 M21.50 293.71 L57.30 268.06 L93.10 242.66 L128.90 257.25 L164.70 249.45 M21.50 293.94 L57.30 260.92 L93.10 240.27 L128.90 254.68 L164.70 254.66 M21.50 291.81 L57.30 251.92 L93.10 236.70 L128.90 256.09 L164.70 256.45 M21.50 291.25 L57.30 264.31 L93.10 238.66 L128.90 250.51 L164.70 256.23 M21.50 293.72 L57.30 271.24 L93.10 242.51 L128.90 256.19 L164.70 262.40 M21.50 296.91 L57.30 258.25 L93.10 238.95 L128.90 246.54 L164.70 257.89 M21.50 294.74 L57.30 255.02 L93.10 240.52 L128.90 250.60 L164.70 259.19 M21.50 291.43 L57.30 261.73 L93.10 237.08 L128.90 249.52 L164.70 248.48 M21.50 293.71 L57.30 262.91 L93.10 240.57 L128.90 248.82 L164.70 264.40 M21.50 294.77 L57.30 267.73 L93.10 239.85 L128.90 249.75 L164.70 248.92 M21.50 291.19 L57.30 251.62 L93.10 240.61 L128.90 251.30 L164.70 241.52 M21.50 292.10 L57.30 255.30 L93.10 236.53 L128.90 245.83 L164.70 244.70 M21.50 292.11 L57.30 264.47 L93.10 238.81 L128.90 251.44 L164.70 250.40 M21.50 292.69 L57.30 264.80 L93.10 238.37 L128.90 260.81 L164.70 267.50 M21.50 296.04 L57.30 268.20 L93.10 240.71 L128.90 254.21 L164.70 266.97 M21.50 294.29 L57.30 267.76 L93.10 237.82 L128.90 255.69 L164.70 262.24 M21.50 295.32 L57.30 260.48 L93.10 242.34 L128.90 258.03 L164.70 263.44 M21.50 296.68 L57.30 263.77 L93.10 241.07 L128.90 257.91 L164.70 258.74 M21.50 291.62 L57.30 272.67 L93.10 242.32 L128.90 260.07 L164.70 250.85 M21.50 293.24 L57.30 264.56 L93.10 241.77 L128.90 257.29 L164.70 256.91" fill="none" stroke="#EDB120" stroke-width="0.6" stroke-linejoin="round"/>
<path d="M21.50 292.37 L57.30 253.55 L93.10 232.41 L128.90 252.19 L164.70 262.24 M21.50 293.10 L57.30 252.29 L93.10 229.36 L128.90 253.63 L164.70 247.93" fill="none" stroke="#EDB120" stroke-width="0.6" stroke-linejoin="round"/>
<path d="M21.50 187.10 L21.50 306.50 L164.70 306.50" fill="none" stroke="#8c8c8c" stroke-width="1"/>
<path d="M21.50 306.50 h1.5 M21.50 282.62 h1.5 M21.50 258.74 h1.5 M21.50 234.86 h1.5 M21.50 210.98 h1.5 M21.50 187.10 h1.5 M57.30 306.50 v-1.5 M93.10 306.50 v-1.5 M128.90 306.50 v-1.5 M164.70 306.50 v-1.5" stroke="#8c8c8c" stroke-width="0.8"/>
<text x="18.00" y="309.50" text-anchor="end" class="t">0</text>
<text x="18.00" y="285.62" text-anchor="end" class="t">0.1</text>
<text x="18.00" y="261.74" text-anchor="end" class="t">0.2</text>
<text x="18.00" y="237.86" text-anchor="end" class="t">0.3</text>
<text x="18.00" y="213.98" text-anchor="end" class="t">0.4</text>
<text x="18.00" y="190.10" text-anchor="end" class="t">0.5</text>
<text x="21.50" y="318.60" text-anchor="middle" class="t">f1</text>
<text x="57.30" y="318.60" text-anchor="middle" class="t">f2</text>
<text x="93.10" y="318.60" text-anchor="middle" class="t">f3</text>
<text x="128.90" y="318.60" text-anchor="middle" class="t">f4</text>
<text x="164.70" y="318.60" text-anchor="middle" class="t">f5</text>
<text x="93.10" y="183.50" text-anchor="middle" class="ti">Fourth</text>
<path d="M210.10 277.65 L245.90 238.54 L281.70 199.59 L317.50 234.79 L353.30 236.67 M210.10 277.46 L245.90 233.46 L281.70 206.74 L317.50 222.94 L353.30 223.94 M210.10 284.99 L245.90 233.72 L281.70 209.47 L317.50 221.21 L353.30 222.97 M210.10 273.85 L245.90 224.86 L281.70 217.65 L317.50 218.00 L353.30 233.91 M210.10 276.57 L245.90 229.30 L281.70 218.33 L317.50 218.20 L353.30 226.56 M210.10 278.06 L245.90 226.09 L281.70 219.71 L317.50 223.11 L353.30 222.28 M210.10 272.78 L245.90 230.99 L281.70 213.83 L317.50 224.53 L353.30 227.04 M210.10 284.44 L245.90 244.57 L281.70 202.05 L317.50 232.19 L353.30 231.63 M210.10 275.00 L245.90 230.64 L281.70 211.15 L317.50 220.32 L353.30 226.99 M210.10 283.87 L245.90 242.18 L281.70 205.25 L317.50 227.93 L353.30 239.63 M210.10 280.12 L245.90 236.06 L281.70 200.90 L317.50 227.93 L353.30 233.58 M210.10 272.64 L245.90 221.80 L281.70 220.48 L317.50 222.44 L353.30 227.89 M210.10 272.19 L245.90 234.47 L281.70 204.33 L317.50 226.87 L353.30 236.08 M210.10 274.32 L245.90 233.06 L281.70 215.89 L317.50 214.90 L353.30 226.33 M210.10 280.96 L245.90 238.00 L281.70 198.61 L317.50 233.28 L353.30 230.05 M210.10 271.61 L245.90 222.41 L281.70 219.43 L317.50 216.09 L353.30 230.68 M210.10 284.02 L245.90 243.26 L281.70 200.86 L317.50 226.47 L353.30 238.83 M210.10 278.71 L245.90 221.71 L281.70 218.48 L317.50 216.46 L353.30 222.77 M210.10 278.10 L245.90 231.52 L281.70 218.43 L317.50 220.74 L353.30 226.59 M210.10 284.09 L245.90 234.01 L281.70 199.19 L317.50 229.65 L353.30 235.77 M210.10 279.35 L245.90 234.30 L281.70 206.76 L317.50 226.73 L353.30 226.08 M210.10 281.82 L245.90 245.28 L281.70 202.26 L317.50 234.22 L353.30 237.77 M210.10 275.46 L245.90 223.79 L281.70 220.36 L317.50 216.86 L353.30 223.19 M210.10 284.70 L245.90 239.89 L281.70 203.14 L317.50 224.13 L353.30 239.40 M210.10 279.83 L245.90 234.65 L281.70 201.68 L317.50 231.74 L353.30 237.35 M210.10 281.22 L245.90 234.21 L281.70 205.86 L317.50 226.27 L353.30 221.88 M210.10 273.02 L245.90 231.36 L281.70 218.18 L317.50 221.51 L353.30 231.31 M210.10 280.27 L245.90 243.31 L281.70 203.73 L317.50 230.77 L353.30 235.97 M210.10 274.52 L245.90 221.76 L281.70 216.79 L317.50 218.06 L353.30 222.42 M210.10 272.04 L245.90 227.26 L281.70 216.23 L317.50 223.17 L353.30 228.43 M210.10 275.16 L245.90 228.97 L281.70 217.53 L317.50 218.27 L353.30 227.41 M210.10 276.00 L245.90 221.40 L281.70 219.34 L317.50 222.19 L353.30 223.51 M210.10 281.16 L245.90 239.38 L281.70 200.33 L317.50 230.76 L353.30 234.83 M210.10 272.48 L245.90 233.43 L281.70 207.18 L317.50 228.83 L353.30 231.43 M210.10 281.75 L245.90 234.90 L281.70 198.71 L317.50 228.05 L353.30 231.24 M210.10 273.20 L245.90 232.97 L281.70 218.00 L317.50 223.15 L353.30 230.12 M210.10 271.39 L245.90 234.65 L281.70 216.90 L317.50 219.33 L353.30 227.74 M210.10 277.29 L245.90 231.60 L281.70 213.72 L317.50 227.72 L353.30 238.41 M210.10 283.10 L245.90 245.59 L281.70 201.33 L317.50 225.79 L353.30 222.93 M210.10 277.14 L245.90 229.64 L281.70 203.46 L317.50 228.40 L353.30 231.68 M210.10 275.76 L245.90 233.26 L281.70 218.62 L317.50 216.76 L353.30 224.44 M210.10 279.05 L245.90 241.27 L281.70 204.22 L317.50 216.72 L353.30 228.01 M210.10 275.48 L245.90 238.77 L281.70 201.91 L317.50 229.37 L353.30 238.81 M210.10 277.52 L245.90 241.16 L281.70 199.93 L317.50 229.69 L353.30 227.30 M210.10 274.16 L245.90 221.46 L281.70 220.44 L317.50 218.80 L353.30 225.13 M210.10 282.10 L245.90 238.66 L281.70 209.31 L317.50 218.43 L353.30 222.52 M210.10 275.82 L245.90 245.26 L281.70 203.26 L317.50 217.65 L353.30 229.04 M210.10 277.79 L245.90 221.85 L281.70 218.13 L317.50 216.00 L353.30 226.90 M210.10 280.64 L245.90 237.66 L281.70 205.87 L317.50 226.55 L353.30 233.31 M210.10 276.71 L245.90 228.54 L281.70 207.14 L317.50 223.93 L353.30 231.07 M210.10 274.62 L245.90 231.93 L281.70 210.78 L317.50 232.28 L353.30 238.13 M210.10 279.27 L245.90 222.71 L281.70 212.84 L317.50 222.99 L353.30 222.91 M210.10 282.51 L245.90 240.62 L281.70 209.22 L317.50 230.61 L353.30 237.48 M210.10 282.39 L245.90 231.56 L281.70 207.85 L317.50 227.56 L353.30 238.15 M210.10 274.03 L245.90 221.62 L281.70 216.01 L317.50 221.56 L353.30 225.42 M210.10 283.47 L245.90 242.63 L281.70 199.34 L317.50 230.62 L353.30 232.34 M210.10 279.00 L245.90 238.98 L281.70 200.21 L317.50 230.80 L353.30 230.69 M210.10 279.75 L245.90 239.71 L281.70 199.10 L317.50 229.61 L353.30 232.24 M210.10 281.98 L245.90 240.85 L281.70 201.25 L317.50 232.95 L353.30 237.85 M210.10 276.40 L245.90 222.32 L281.70 213.56 L317.50 221.32 L353.30 232.46 M210.10 283.33 L245.90 233.49 L281.70 212.29 L317.50 223.33 L353.30 227.67 M210.10 282.92 L245.90 242.87 L281.70 202.73 L317.50 230.27 L353.30 230.96 M210.10 279.51 L245.90 240.83 L281.70 204.62 L317.50 228.87 L353.30 237.07 M210.10 273.50 L245.90 222.09 L281.70 215.20 L317.50 214.93 L353.30 230.92 M210.10 271.22 L245.90 226.47 L281.70 213.78 L317.50 215.76 L353.30 226.75 M210.10 276.18 L245.90 227.67 L281.70 220.18 L317.50 215.66 L353.30 227.10 M210.10 284.32 L245.90 231.34 L281.70 218.01 L317.50 217.30 L353.30 227.06 M210.10 271.89 L245.90 224.46 L281.70 212.50 L317.50 219.93 L353.30 228.68 M210.10 275.06 L245.90 231.97 L281.70 212.43 L317.50 232.21 L353.30 230.59 M210.10 281.57 L245.90 236.85 L281.70 213.76 L317.50 223.29 L353.30 233.97 M210.10 276.95 L245.90 246.22 L281.70 205.70 L317.50 234.67 L353.30 227.84 M210.10 279.98 L245.90 236.56 L281.70 214.92 L317.50 227.17 L353.30 229.88 M210.10 282.78 L245.90 230.77 L281.70 206.70 L317.50 229.94 L353.30 236.76 M210.10 284.64 L245.90 238.34 L281.70 199.48 L317.50 233.88 L353.30 228.34 M210.10 272.39 L245.90 231.70 L281.70 220.26 L317.50 215.86 L353.30 226.25 M210.10 283.71 L245.90 239.88 L281.70 201.11 L317.50 231.99 L353.30 239.43 M210.10 278.53 L245.90 232.36 L281.70 206.64 L317.50 231.69 L353.30 239.63 M210.10 274.70 L245.90 221.45 L281.70 212.90 L317.50 215.12 L353.30 223.20 M210.10 281.38 L245.90 232.57 L281.70 199.25 L317.50 233.35 L353.30 235.10 M210.10 272.89 L245.90 228.06 L281.70 215.75 L317.50 223.41 L353.30 227.12 M210.10 271.68 L245.90 232.38 L281.70 211.39 L317.50 225.29 L353.30 230.53 M210.10 283.30 L245.90 239.87 L281.70 204.72 L317.50 227.43 L353.30 228.18 M210.10 278.56 L245.90 235.64 L281.70 203.70 L317.50 225.75 L353.30 228.25 M210.10 273.73 L245.90 226.67 L281.70 219.53 L317.50 221.72 L353.30 230.62 M210.10 280.80 L245.90 238.37 L281.70 212.63 L317.50 215.42 L353.30 237.03 M210.10 278.34 L245.90 246.05 L281.70 199.89 L317.50 233.58 L353.30 235.89 M210.10 276.28 L245.90 241.52 L281.70 197.96 L317.50 223.03 L353.30 225.96 M210.10 280.46 L245.90 245.16 L281.70 202.48 L317.50 231.89 L353.30 233.68 M210.10 273.32 L245.90 221.35 L281.70 217.77 L317.50 218.31 L353.30 223.60 M210.10 282.69 L245.90 238.71 L281.70 200.42 L317.50 230.16 L353.30 232.70" fill="none" stroke="#0072BD" stroke-width="0.45" stroke-linejoin="round"/>
<path d="M210.10 291.46 L245.90 247.71 L281.70 231.19 L317.50 245.70 L353.30 251.62 M210.10 287.27 L245.90 260.42 L281.70 224.19 L317.50 246.28 L353.30 254.41 M210.10 290.73 L245.90 251.94 L281.70 226.93 L317.50 235.01 L353.30 252.47 M210.10 281.28 L245.90 246.41 L281.70 215.61 L317.50 248.36 L353.30 240.20 M210.10 281.66 L245.90 242.44 L281.70 213.15 L317.50 238.14 L353.30 244.42 M210.10 283.58 L245.90 252.36 L281.70 216.09 L317.50 236.07 L353.30 253.01 M210.10 288.80 L245.90 245.41 L281.70 218.60 L317.50 238.95 L353.30 243.92 M210.10 284.67 L245.90 247.35 L281.70 227.38 L317.50 240.78 L353.30 243.47 M210.10 287.10 L245.90 254.67 L281.70 224.72 L317.50 240.98 L353.30 246.36 M210.10 291.56 L245.90 255.62 L281.70 224.81 L317.50 248.61 L353.30 250.87 M210.10 281.05 L245.90 244.90 L281.70 221.17 L317.50 238.71 L353.30 243.21 M210.10 284.06 L245.90 248.76 L281.70 221.45 L317.50 241.75 L353.30 250.03 M210.10 289.82 L245.90 257.82 L281.70 226.69 L317.50 238.45 L353.30 257.09 M210.10 286.69 L245.90 251.63 L281.70 225.34 L317.50 242.17 L353.30 245.29 M210.10 290.06 L245.90 261.12 L281.70 229.52 L317.50 245.56 L353.30 257.69 M210.10 285.74 L245.90 248.66 L281.70 214.90 L317.50 241.87 L353.30 241.96 M210.10 280.92 L245.90 256.76 L281.70 217.52 L317.50 245.63 L353.30 242.38 M210.10 290.36 L245.90 252.16 L281.70 227.80 L317.50 247.24 L353.30 257.66 M210.10 289.85 L245.90 252.79 L281.70 221.99 L317.50 238.93 L353.30 247.70 M210.10 290.01 L245.90 260.89 L281.70 232.89 L317.50 243.74 L353.30 254.13 M210.10 291.27 L245.90 260.88 L281.70 233.85 L317.50 247.67 L353.30 257.50 M210.10 281.34 L245.90 247.55 L281.70 234.75 L317.50 246.81 L353.30 239.90 M210.10 284.90 L245.90 255.81 L281.70 221.08 L317.50 251.26 L353.30 242.31 M210.10 287.38 L245.90 244.40 L281.70 214.88 L317.50 246.63 L353.30 253.47 M210.10 290.59 L245.90 260.62 L281.70 230.09 L317.50 248.44 L353.30 250.13 M210.10 290.35 L245.90 257.15 L281.70 225.06 L317.50 246.24 L353.30 249.79 M210.10 289.15 L245.90 244.71 L281.70 215.82 L317.50 244.88 L353.30 249.03 M210.10 280.37 L245.90 255.90 L281.70 223.94 L317.50 247.35 L353.30 253.82 M210.10 280.58 L245.90 245.41 L281.70 215.99 L317.50 236.49 L353.30 238.47 M210.10 287.66 L245.90 251.72 L281.70 220.54 L317.50 242.10 L353.30 253.18 M210.10 288.46 L245.90 250.76 L281.70 233.56 L317.50 242.67 L353.30 248.61 M210.10 290.37 L245.90 250.21 L281.70 225.00 L317.50 248.52 L353.30 256.53 M210.10 291.70 L245.90 254.71 L281.70 230.99 L317.50 246.29 L353.30 249.39 M210.10 285.56 L245.90 251.73 L281.70 220.31 L317.50 239.16 L353.30 239.41 M210.10 286.24 L245.90 253.22 L281.70 220.23 L317.50 240.74 L353.30 242.67 M210.10 280.67 L245.90 250.58 L281.70 217.44 L317.50 239.86 L353.30 243.58 M210.10 284.80 L245.90 245.12 L281.70 222.00 L317.50 240.68 L353.30 238.89 M210.10 282.14 L245.90 247.13 L281.70 219.91 L317.50 235.71 L353.30 244.62 M210.10 285.66 L245.90 255.04 L281.70 232.42 L317.50 246.81 L353.30 246.66 M210.10 288.20 L245.90 242.73 L281.70 213.91 L317.50 234.48 L353.30 245.15" fill="none" stroke="#D95319" stroke-width="0.55" stroke-linejoin="round"/>
<path d="M210.10 289.74 L245.90 242.78 L281.70 224.13 L317.50 239.99 L353.30 241.45 M210.10 298.90 L245.90 242.89 L281.70 222.39 L317.50 235.08 L353.30 249.13 M210.10 296.76 L245.90 260.77 L281.70 232.93 L317.50 250.13 L353.30 262.56 M210.10 291.27 L245.90 246.80 L281.70 223.14 L317.50 239.25 L353.30 245.05 M210.10 285.64 L245.90 246.94 L281.70 221.94 L317.50 243.95 L353.30 246.85 M210.10 300.04 L245.90 259.07 L281.70 236.23 L317.50 254.42 L353.30 265.07 M210.10 293.79 L245.90 256.24 L281.70 223.06 L317.50 241.43 L353.30 252.48 M210.10 285.55 L245.90 259.56 L281.70 234.71 L317.50 252.32 L353.30 251.88 M210.10 283.22 L245.90 264.33 L281.70 228.62 L317.50 251.68 L353.30 263.91 M210.10 291.59 L245.90 260.79 L281.70 234.12 L317.50 250.32 L353.30 260.29 M210.10 301.23 L245.90 250.39 L281.70 238.24 L317.50 251.77 L353.30 259.90 M210.10 287.63 L245.90 264.25 L281.70 239.48 L317.50 248.00 L353.30 262.15 M210.10 284.50 L245.90 244.71 L281.70 221.73 L317.50 236.04 L353.30 244.54 M210.10 294.88 L245.90 264.36 L281.70 228.68 L317.50 248.81 L353.30 259.21 M210.10 297.27 L245.90 241.08 L281.70 230.90 L317.50 243.20 L353.30 250.51 M210.10 300.82 L245.90 246.66 L281.70 224.42 L317.50 241.03 L353.30 264.36 M210.10 296.28 L245.90 255.38 L281.70 220.55 L317.50 251.07 L353.30 257.98 M210.10 293.89 L245.90 243.54 L281.70 225.43 L317.50 249.31 L353.30 249.37 M210.10 288.01 L245.90 254.83 L281.70 232.42 L317.50 246.10 L353.30 260.01 M210.10 285.54 L245.90 268.07 L281.70 223.69 L317.50 238.73 L353.30 255.92 M210.10 301.09 L245.90 267.90 L281.70 238.75 L317.50 253.41 L353.30 268.54 M210.10 301.33 L245.90 249.00 L281.70 229.38 L317.50 256.27 L353.30 241.76 M210.10 296.61 L245.90 267.59 L281.70 239.27 L317.50 249.30 L353.30 253.42 M210.10 295.71 L245.90 255.51 L281.70 232.16 L317.50 244.01 L353.30 254.18 M210.10 292.81 L245.90 249.32 L281.70 224.86 L317.50 253.19 L353.30 249.50 M210.10 291.74 L245.90 249.48 L281.70 238.48 L317.50 252.87 L353.30 262.26 M210.10 295.91 L245.90 264.05 L281.70 237.07 L317.50 246.51 L353.30 267.60 M210.10 289.77 L245.90 241.85 L281.70 220.95 L317.50 239.50 L353.30 244.90 M210.10 289.33 L245.90 250.33 L281.70 222.10 L317.50 255.01 L353.30 248.29 M210.10 287.20 L245.90 242.25 L281.70 225.37 L317.50 235.70 L353.30 241.35 M210.10 296.62 L245.90 267.26 L281.70 223.15 L317.50 252.16 L353.30 259.96 M210.10 291.56 L245.90 252.92 L281.70 232.58 L317.50 256.94 L353.30 259.51 M210.10 295.27 L245.90 247.08 L281.70 226.60 L317.50 244.53 L353.30 265.22 M210.10 290.92 L245.90 241.59 L281.70 231.85 L317.50 248.89 L353.30 241.11 M210.10 286.21 L245.90 246.05 L281.70 221.63 L317.50 235.83 L353.30 251.30 M210.10 284.52 L245.90 248.06 L281.70 225.39 L317.50 245.41 L353.30 242.89 M210.10 294.63 L245.90 252.75 L281.70 232.13 L317.50 247.69 L353.30 262.75 M210.10 295.86 L245.90 248.11 L281.70 229.46 L317.50 243.48 L353.30 245.02 M210.10 287.61 L245.90 248.03 L281.70 221.32 L317.50 245.13 L353.30 243.91 M210.10 286.22 L245.90 258.82 L281.70 237.88 L317.50 246.67 L353.30 263.86 M210.10 300.88 L245.90 265.72 L281.70 230.78 L317.50 254.33 L353.30 248.16 M210.10 290.80 L245.90 267.21 L281.70 236.12 L317.50 247.95 L353.30 262.13 M210.10 295.19 L245.90 248.89 L281.70 237.43 L317.50 245.07 L353.30 243.46 M210.10 295.82 L245.90 263.03 L281.70 221.72 L317.50 239.74 L353.30 246.72 M210.10 288.75 L245.90 257.60 L281.70 222.86 L317.50 238.84 L353.30 267.39 M210.10 301.44 L245.90 260.40 L281.70 220.91 L317.50 250.65 L353.30 258.98 M210.10 283.35 L245.90 243.38 L281.70 225.38 L317.50 254.20 L353.30 255.30 M210.10 296.95 L245.90 254.55 L281.70 227.82 L317.50 242.26 L353.30 244.68 M210.10 288.81 L245.90 246.95 L281.70 229.70 L317.50 247.73 L353.30 248.47 M210.10 293.28 L245.90 256.75 L281.70 222.76 L317.50 244.20 L353.30 246.40 M210.10 286.93 L245.90 257.52 L281.70 223.48 L317.50 245.07 L353.30 262.06 M210.10 297.52 L245.90 246.53 L281.70 238.82 L317.50 253.76 L353.30 267.67 M210.10 299.12 L245.90 256.14 L281.70 232.18 L317.50 254.75 L353.30 261.99 M210.10 284.12 L245.90 244.94 L281.70 226.15 L317.50 250.15 L353.30 253.62 M210.10 293.98 L245.90 245.90 L281.70 227.05 L317.50 237.41 L353.30 244.39 M210.10 300.53 L245.90 254.36 L281.70 234.43 L317.50 248.56 L353.30 256.88 M210.10 293.59 L245.90 267.78 L281.70 227.30 L317.50 250.81 L353.30 247.42 M210.10 300.77 L245.90 244.74 L281.70 225.81 L317.50 244.98 L353.30 243.84 M210.10 294.94 L245.90 253.57 L281.70 224.58 L317.50 237.09 L353.30 245.09 M210.10 296.99 L245.90 250.95 L281.70 235.26 L317.50 253.95 L353.30 245.98 M210.10 295.27 L245.90 250.41 L281.70 236.63 L317.50 256.62 L353.30 251.30 M210.10 289.22 L245.90 261.19 L281.70 226.25 L317.50 245.06 L353.30 261.78 M210.10 291.53 L245.90 242.37 L281.70 228.03 L317.50 235.27 L353.30 246.54 M210.10 299.00 L245.90 245.63 L281.70 228.63 L317.50 238.39 L353.30 257.75 M210.10 296.06 L245.90 255.79 L281.70 236.80 L317.50 256.30 L353.30 254.69 M210.10 299.25 L245.90 244.56 L281.70 229.47 L317.50 244.08 L353.30 255.69 M210.10 292.30 L245.90 243.70 L281.70 222.44 L317.50 238.84 L353.30 253.80 M210.10 289.16 L245.90 248.60 L281.70 230.02 L317.50 237.28 L353.30 251.04 M210.10 295.04 L245.90 254.16 L281.70 222.79 L317.50 235.80 L353.30 243.13 M210.10 293.56 L245.90 252.98 L281.70 225.71 L317.50 241.72 L353.30 255.58 M210.10 296.18 L245.90 244.60 L281.70 228.25 L317.50 244.62 L353.30 247.06 M210.10 284.48 L245.90 239.88 L281.70 223.53 L317.50 235.02 L353.30 250.68 M210.10 289.75 L245.90 255.93 L281.70 228.37 L317.50 239.61 L353.30 246.75 M210.10 288.12 L245.90 249.56 L281.70 224.75 L317.50 236.61 L353.30 241.22 M210.10 298.07 L245.90 255.46 L281.70 238.48 L317.50 242.46 L353.30 261.92 M210.10 288.52 L245.90 240.06 L281.70 228.75 L317.50 238.13 L353.30 249.37 M210.10 290.77 L245.90 256.66 L281.70 238.94 L317.50 249.71 L353.30 264.48 M210.10 295.25 L245.90 256.20 L281.70 234.42 L317.50 256.84 L353.30 250.17 M210.10 293.70 L245.90 256.88 L281.70 230.15 L317.50 248.58 L353.30 243.81 M210.10 289.41 L245.90 256.86 L281.70 233.63 L317.50 236.10 L353.30 251.50 M210.10 291.18 L245.90 252.40 L281.70 228.77 L317.50 245.20 L353.30 246.26 M210.10 295.82 L245.90 259.81 L281.70 226.78 L317.50 246.47 L353.30 263.91 M210.10 295.41 L245.90 260.87 L281.70 237.16 L317.50 255.06 L353.30 267.95 M210.10 300.76 L245.90 264.38 L281.70 226.76 L317.50 244.14 L353.30 253.48 M210.10 301.53 L245.90 262.26 L281.70 220.56 L317.50 244.47 L353.30 263.63 M210.10 296.34 L245.90 263.02 L281.70 222.57 L317.50 246.72 L353.30 264.56 M210.10 291.15 L245.90 253.36 L281.70 226.79 L317.50 236.80 L353.30 268.76 M210.10 298.72 L245.90 265.06 L281.70 235.92 L317.50 255.97 L353.30 261.68 M210.10 299.89 L245.90 267.37 L281.70 225.92 L317.50 242.76 L353.30 267.84 M210.10 282.68 L245.90 257.95 L281.70 239.20 L317.50 254.07 L353.30 260.02" fill="none" stroke="#EDB120" stroke-width="0.6" stroke-linejoin="round"/>
<path d="M210.10 295.58 L245.90 250.37 L281.70 207.97 L317.50 249.32 L353.30 250.09 M210.10 292.14 L245.90 247.93 L281.70 214.03 L317.50 247.98 L353.30 254.75 M210.10 292.03 L245.90 246.73 L281.70 208.71 L317.50 245.58 L353.30 247.06 M210.10 297.02 L245.90 252.90 L281.70 213.14 L317.50 252.54 L353.30 253.56 M210.10 297.09 L245.90 254.28 L281.70 214.61 L317.50 249.99 L353.30 257.52 M210.10 291.14 L245.90 244.93 L281.70 217.23 L317.50 241.15 L353.30 255.42 M210.10 292.12 L245.90 258.28 L281.70 212.92 L317.50 249.29 L353.30 248.61 M210.10 293.08 L245.90 247.99 L281.70 217.52 L317.50 243.75 L353.30 243.22 M210.10 298.41 L245.90 258.57 L281.70 212.57 L317.50 251.96 L353.30 256.72 M210.10 290.93 L245.90 253.48 L281.70 218.93 L317.50 246.11 L353.30 252.80" fill="none" stroke="#EDB120" stroke-width="0.6" stroke-linejoin="round"/>
<path d="M210.10 187.10 L210.10 306.50 L353.30 306.50" fill="none" stroke="#8c8c8c" stroke-width="1"/>
<path d="M210.10 306.50 h1.5 M210.10 282.62 h1.5 M210.10 258.74 h1.5 M210.10 234.86 h1.5 M210.10 210.98 h1.5 M210.10 187.10 h1.5 M245.90 306.50 v-1.5 M281.70 306.50 v-1.5 M317.50 306.50 v-1.5 M353.30 306.50 v-1.5" stroke="#8c8c8c" stroke-width="0.8"/>
<text x="206.60" y="309.50" text-anchor="end" class="t">0</text>
<text x="206.60" y="285.62" text-anchor="end" class="t">0.1</text>
<text x="206.60" y="261.74" text-anchor="end" class="t">0.2</text>
<text x="206.60" y="237.86" text-anchor="end" class="t">0.3</text>
<text x="206.60" y="213.98" text-anchor="end" class="t">0.4</text>
<text x="206.60" y="190.10" text-anchor="end" class="t">0.5</text>
<text x="210.10" y="318.60" text-anchor="middle" class="t">f1</text>
<text x="245.90" y="318.60" text-anchor="middle" class="t">f2</text>
<text x="281.70" y="318.60" text-anchor="middle" class="t">f3</text>
<text x="317.50" y="318.60" text-anchor="middle" class="t">f4</text>
<text x="353.30" y="318.60" text-anchor="middle" class="t">f5</text>
<text x="281.70" y="183.50" text-anchor="middle" class="ti">Fifth</text>
<path d="M398.70 279.61 L434.50 244.86 L470.30 220.14 L506.10 229.97 L541.90 246.47 M398.70 271.79 L434.50 234.59 L470.30 223.82 L506.10 231.80 L541.90 238.69 M398.70 274.77 L434.50 249.73 L470.30 212.71 L506.10 236.58 L541.90 235.34 M398.70 284.02 L434.50 246.36 L470.30 215.61 L506.10 233.91 L541.90 241.23 M398.70 266.25 L434.50 243.70 L470.30 213.28 L506.10 236.01 L541.90 239.74 M398.70 269.75 L434.50 249.05 L470.30 218.46 L506.10 234.41 L541.90 233.68 M398.70 266.87 L434.50 236.75 L470.30 224.35 L506.10 227.89 L541.90 246.71 M398.70 283.89 L434.50 242.83 L470.30 212.85 L506.10 240.79 L541.90 230.21 M398.70 278.92 L434.50 239.84 L470.30 225.19 L506.10 230.48 L541.90 241.73 M398.70 271.29 L434.50 239.91 L470.30 222.19 L506.10 228.51 L541.90 247.63 M398.70 284.46 L434.50 246.82 L470.30 216.54 L506.10 230.30 L541.90 244.31 M398.70 275.91 L434.50 239.38 L470.30 223.22 L506.10 229.28 L541.90 246.91 M398.70 280.33 L434.50 254.49 L470.30 218.03 L506.10 237.20 L541.90 235.41 M398.70 280.48 L434.50 253.98 L470.30 215.65 L506.10 234.07 L541.90 233.67 M398.70 279.80 L434.50 236.02 L470.30 220.24 L506.10 227.52 L541.90 247.74 M398.70 282.33 L434.50 248.23 L470.30 222.20 L506.10 229.33 L541.90 244.45 M398.70 281.47 L434.50 248.77 L470.30 211.95 L506.10 239.59 L541.90 229.88 M398.70 272.46 L434.50 236.41 L470.30 222.22 L506.10 228.21 L541.90 243.19 M398.70 274.56 L434.50 245.98 L470.30 216.54 L506.10 232.88 L541.90 236.40 M398.70 268.44 L434.50 236.47 L470.30 223.22 L506.10 225.30 L541.90 246.95 M398.70 279.95 L434.50 253.60 L470.30 211.57 L506.10 240.78 L541.90 229.94 M398.70 282.04 L434.50 241.81 L470.30 222.10 L506.10 230.89 L541.90 241.40 M398.70 267.11 L434.50 233.25 L470.30 224.59 L506.10 226.37 L541.90 243.96 M398.70 276.66 L434.50 242.17 L470.30 218.66 L506.10 230.59 L541.90 243.44 M398.70 274.00 L434.50 231.40 L470.30 224.94 L506.10 225.18 L541.90 246.47 M398.70 269.20 L434.50 232.88 L470.30 222.44 L506.10 228.46 L541.90 246.31 M398.70 281.00 L434.50 249.36 L470.30 217.94 L506.10 230.59 L541.90 240.13 M398.70 266.49 L434.50 240.22 L470.30 224.90 L506.10 225.25 L541.90 248.70 M398.70 278.49 L434.50 240.93 L470.30 218.61 L506.10 234.66 L541.90 240.27 M398.70 281.19 L434.50 251.89 L470.30 214.13 L506.10 238.80 L541.90 234.85 M398.70 277.19 L434.50 254.14 L470.30 213.03 L506.10 236.52 L541.90 235.77 M398.70 272.03 L434.50 237.23 L470.30 220.64 L506.10 232.80 L541.90 242.63 M398.70 265.86 L434.50 235.40 L470.30 224.52 L506.10 225.40 L541.90 245.25 M398.70 275.16 L434.50 240.44 L470.30 220.01 L506.10 232.29 L541.90 238.79 M398.70 282.99 L434.50 252.96 L470.30 212.65 L506.10 235.35 L541.90 234.76 M398.70 272.28 L434.50 242.62 L470.30 222.17 L506.10 227.53 L541.90 246.59 M398.70 279.27 L434.50 248.32 L470.30 218.41 L506.10 231.27 L541.90 244.11 M398.70 267.66 L434.50 233.23 L470.30 220.95 L506.10 230.06 L541.90 242.38 M398.70 267.98 L434.50 241.00 L470.30 223.20 L506.10 228.20 L541.90 243.95 M398.70 283.41 L434.50 243.56 L470.30 216.80 L506.10 235.92 L541.90 234.17 M398.70 274.93 L434.50 247.02 L470.30 213.08 L506.10 236.27 L541.90 237.89 M398.70 269.41 L434.50 233.45 L470.30 222.97 L506.10 234.58 L541.90 237.86 M398.70 272.90 L434.50 242.03 L470.30 213.65 L506.10 239.24 L541.90 230.17 M398.70 273.88 L434.50 240.94 L470.30 224.44 L506.10 230.05 L541.90 241.04 M398.70 273.37 L434.50 247.37 L470.30 211.17 L506.10 235.94 L541.90 234.43 M398.70 269.66 L434.50 233.49 L470.30 226.26 L506.10 227.82 L541.90 248.02 M398.70 277.58 L434.50 249.65 L470.30 211.97 L506.10 238.87 L541.90 232.41 M398.70 271.05 L434.50 243.60 L470.30 214.99 L506.10 236.81 L541.90 232.49 M398.70 276.46 L434.50 239.82 L470.30 221.38 L506.10 231.06 L541.90 242.03 M398.70 282.73 L434.50 246.32 L470.30 222.09 L506.10 226.25 L541.90 244.67 M398.70 276.84 L434.50 245.38 L470.30 216.77 L506.10 234.14 L541.90 241.69 M398.70 273.62 L434.50 244.27 L470.30 213.65 L506.10 237.50 L541.90 232.21 M398.70 270.09 L434.50 230.92 L470.30 222.89 L506.10 229.02 L541.90 242.24 M398.70 276.21 L434.50 244.44 L470.30 220.18 L506.10 230.99 L541.90 248.71 M398.70 267.56 L434.50 238.84 L470.30 226.10 L506.10 228.63 L541.90 244.38 M398.70 275.55 L434.50 249.79 L470.30 214.67 L506.10 236.57 L541.90 237.07 M398.70 266.04 L434.50 232.43 L470.30 217.20 L506.10 226.80 L541.90 247.68 M398.70 278.35 L434.50 247.13 L470.30 213.24 L506.10 239.95 L541.90 233.02 M398.70 274.26 L434.50 243.96 L470.30 217.60 L506.10 232.51 L541.90 240.16 M398.70 270.20 L434.50 232.15 L470.30 223.83 L506.10 230.34 L541.90 244.21 M398.70 273.18 L434.50 234.89 L470.30 225.71 L506.10 228.49 L541.90 243.29 M398.70 279.00 L434.50 244.73 L470.30 220.24 L506.10 234.04 L541.90 236.29 M398.70 282.68 L434.50 254.32 L470.30 212.66 L506.10 240.10 L541.90 230.36 M398.70 268.86 L434.50 231.96 L470.30 225.85 L506.10 226.76 L541.90 247.97 M398.70 277.97 L434.50 248.16 L470.30 214.17 L506.10 235.97 L541.90 235.51 M398.70 267.24 L434.50 246.93 L470.30 215.37 L506.10 238.93 L541.90 231.54 M398.70 281.84 L434.50 241.70 L470.30 212.42 L506.10 235.55 L541.90 237.46 M398.70 280.62 L434.50 249.34 L470.30 215.82 L506.10 237.22 L541.90 237.78 M398.70 268.75 L434.50 251.50 L470.30 211.55 L506.10 238.22 L541.90 230.47 M398.70 281.66 L434.50 253.61 L470.30 215.41 L506.10 237.23 L541.90 237.03 M398.70 270.46 L434.50 237.72 L470.30 224.93 L506.10 225.03 L541.90 248.18 M398.70 277.32 L434.50 243.88 L470.30 219.41 L506.10 227.86 L541.90 246.31 M398.70 284.35 L434.50 243.51 L470.30 217.29 L506.10 238.28 L541.90 235.08 M398.70 283.50 L434.50 240.59 L470.30 224.06 L506.10 231.17 L541.90 245.25 M398.70 278.01 L434.50 230.92 L470.30 220.83 L506.10 231.50 L541.90 237.34 M398.70 268.22 L434.50 235.05 L470.30 221.62 L506.10 225.02 L541.90 246.93 M398.70 271.46 L434.50 241.07 L470.30 219.47 L506.10 237.37 L541.90 230.79 M398.70 275.67 L434.50 239.97 L470.30 226.10 L506.10 226.51 L541.90 248.22 M398.70 272.73 L434.50 248.55 L470.30 213.75 L506.10 238.95 L541.90 236.00 M398.70 270.87 L434.50 240.70 L470.30 224.73 L506.10 230.47 L541.90 243.96" fill="none" stroke="#0072BD" stroke-width="0.45" stroke-linejoin="round"/>
<path d="M398.70 277.92 L434.50 241.91 L470.30 203.99 L506.10 233.15 L541.90 234.61 M398.70 269.04 L434.50 239.01 L470.30 207.83 L506.10 237.51 L541.90 235.26 M398.70 278.58 L434.50 240.33 L470.30 204.55 L506.10 237.64 L541.90 235.80 M398.70 276.65 L434.50 242.44 L470.30 211.06 L506.10 238.40 L541.90 236.08 M398.70 274.63 L434.50 241.69 L470.30 209.91 L506.10 235.41 L541.90 236.47 M398.70 273.93 L434.50 239.19 L470.30 203.52 L506.10 234.09 L541.90 237.62 M398.70 270.02 L434.50 242.27 L470.30 203.35 L506.10 237.88 L541.90 239.97 M398.70 271.50 L434.50 245.89 L470.30 211.30 L506.10 240.38 L541.90 233.14" fill="none" stroke="#0072BD" stroke-width="0.45" stroke-linejoin="round"/>
<path d="M398.70 288.90 L434.50 264.68 L470.30 235.32 L506.10 249.77 L541.90 249.15 M398.70 288.65 L434.50 260.30 L470.30 236.02 L506.10 246.53 L541.90 248.37 M398.70 287.52 L434.50 264.40 L470.30 235.69 L506.10 253.00 L541.90 255.35 M398.70 290.60 L434.50 249.01 L470.30 240.18 L506.10 253.54 L541.90 249.56 M398.70 289.71 L434.50 258.36 L470.30 236.95 L506.10 248.12 L541.90 245.62 M398.70 285.05 L434.50 261.24 L470.30 244.05 L506.10 243.78 L541.90 256.90 M398.70 284.25 L434.50 252.33 L470.30 233.19 L506.10 252.39 L541.90 255.92 M398.70 285.49 L434.50 256.83 L470.30 225.32 L506.10 241.87 L541.90 250.06 M398.70 284.83 L434.50 249.18 L470.30 223.42 L506.10 235.37 L541.90 244.92 M398.70 288.04 L434.50 261.47 L470.30 229.14 L506.10 236.77 L541.90 244.01 M398.70 290.93 L434.50 258.16 L470.30 230.20 L506.10 240.09 L541.90 259.18 M398.70 285.16 L434.50 256.63 L470.30 226.65 L506.10 241.31 L541.90 246.38 M398.70 283.52 L434.50 251.51 L470.30 224.61 L506.10 246.13 L541.90 258.21 M398.70 291.27 L434.50 266.38 L470.30 239.88 L506.10 248.46 L541.90 253.22 M398.70 291.91 L434.50 251.88 L470.30 229.52 L506.10 253.46 L541.90 255.80 M398.70 287.87 L434.50 247.06 L470.30 221.52 L506.10 239.92 L541.90 247.99 M398.70 290.99 L434.50 255.86 L470.30 240.66 L506.10 248.02 L541.90 257.13 M398.70 286.96 L434.50 251.96 L470.30 229.41 L506.10 250.17 L541.90 256.74 M398.70 287.94 L434.50 251.39 L470.30 222.39 L506.10 236.60 L541.90 244.63 M398.70 289.29 L434.50 262.43 L470.30 243.80 L506.10 239.20 L541.90 251.45 M398.70 289.79 L434.50 261.37 L470.30 234.53 L506.10 247.07 L541.90 258.39 M398.70 282.48 L434.50 248.22 L470.30 221.59 L506.10 237.61 L541.90 245.94 M398.70 287.53 L434.50 246.85 L470.30 233.31 L506.10 251.32 L541.90 253.96 M398.70 283.81 L434.50 259.23 L470.30 231.28 L506.10 242.38 L541.90 251.06 M398.70 282.61 L434.50 260.40 L470.30 223.90 L506.10 236.77 L541.90 246.66 M398.70 291.12 L434.50 264.57 L470.30 236.12 L506.10 253.00 L541.90 257.37 M398.70 289.30 L434.50 265.46 L470.30 237.31 L506.10 253.86 L541.90 250.81 M398.70 291.68 L434.50 258.68 L470.30 240.58 L506.10 244.80 L541.90 256.05 M398.70 288.46 L434.50 247.31 L470.30 222.96 L506.10 237.40 L541.90 247.91 M398.70 291.42 L434.50 256.99 L470.30 242.14 L506.10 249.87 L541.90 253.24 M398.70 291.12 L434.50 260.21 L470.30 231.90 L506.10 242.81 L541.90 259.38 M398.70 289.68 L434.50 259.65 L470.30 235.93 L506.10 250.79 L541.90 249.18 M398.70 283.35 L434.50 261.10 L470.30 226.90 L506.10 253.98 L541.90 248.73 M398.70 288.25 L434.50 258.98 L470.30 244.35 L506.10 252.46 L541.90 254.72 M398.70 281.67 L434.50 259.87 L470.30 224.70 L506.10 250.42 L541.90 245.61 M398.70 284.68 L434.50 261.90 L470.30 231.94 L506.10 247.99 L541.90 258.60 M398.70 290.46 L434.50 264.53 L470.30 237.88 L506.10 254.53 L541.90 254.22 M398.70 283.51 L434.50 264.15 L470.30 232.47 L506.10 243.06 L541.90 249.54 M398.70 282.59 L434.50 254.35 L470.30 225.85 L506.10 234.06 L541.90 252.17 M398.70 292.01 L434.50 264.17 L470.30 237.82 L506.10 250.77 L541.90 250.03 M398.70 286.42 L434.50 264.33 L470.30 229.88 L506.10 252.54 L541.90 254.60 M398.70 284.90 L434.50 250.45 L470.30 224.36 L506.10 234.67 L541.90 245.31 M398.70 284.49 L434.50 252.48 L470.30 230.86 L506.10 240.98 L541.90 248.14 M398.70 283.46 L434.50 248.25 L470.30 226.11 L506.10 235.90 L541.90 252.95 M398.70 291.67 L434.50 266.20 L470.30 233.43 L506.10 253.18 L541.90 255.47 M398.70 286.61 L434.50 261.70 L470.30 238.12 L506.10 245.13 L541.90 246.86 M398.70 288.88 L434.50 256.78 L470.30 238.93 L506.10 250.67 L541.90 251.35 M398.70 292.28 L434.50 264.35 L470.30 236.17 L506.10 242.71 L541.90 258.61 M398.70 290.14 L434.50 263.91 L470.30 244.49 L506.10 250.15 L541.90 259.72 M398.70 288.54 L434.50 254.01 L470.30 234.10 L506.10 235.30 L541.90 254.56 M398.70 286.46 L434.50 251.79 L470.30 224.06 L506.10 245.04 L541.90 245.75 M398.70 282.60 L434.50 246.93 L470.30 223.97 L506.10 236.53 L541.90 249.27 M398.70 285.35 L434.50 264.59 L470.30 241.72 L506.10 246.96 L541.90 246.02 M398.70 287.17 L434.50 262.93 L470.30 242.61 L506.10 252.75 L541.90 259.38 M398.70 286.04 L434.50 257.79 L470.30 224.35 L506.10 245.28 L541.90 250.55 M398.70 287.13 L434.50 250.31 L470.30 230.33 L506.10 237.41 L541.90 245.50 M398.70 285.27 L434.50 253.05 L470.30 223.19 L506.10 236.23 L541.90 249.28 M398.70 287.70 L434.50 254.88 L470.30 234.88 L506.10 247.05 L541.90 251.06 M398.70 284.45 L434.50 248.13 L470.30 227.75 L506.10 239.59 L541.90 247.00 M398.70 289.72 L434.50 264.21 L470.30 226.61 L506.10 250.71 L541.90 257.09 M398.70 288.23 L434.50 249.97 L470.30 225.74 L506.10 243.87 L541.90 245.50 M398.70 284.03 L434.50 249.21 L470.30 228.62 L506.10 254.40 L541.90 249.22 M398.70 285.14 L434.50 263.25 L470.30 238.57 L506.10 250.66 L541.90 258.00 M398.70 290.73 L434.50 258.78 L470.30 236.20 L506.10 240.07 L541.90 255.95 M398.70 290.79 L434.50 263.40 L470.30 231.84 L506.10 252.58 L541.90 254.06 M398.70 281.97 L434.50 252.60 L470.30 229.93 L506.10 240.59 L541.90 247.24 M398.70 285.45 L434.50 258.92 L470.30 238.79 L506.10 244.84 L541.90 258.71 M398.70 283.02 L434.50 252.42 L470.30 221.12 L506.10 246.42 L541.90 257.30 M398.70 289.16 L434.50 263.12 L470.30 243.57 L506.10 250.76 L541.90 257.84 M398.70 287.16 L434.50 260.91 L470.30 236.45 L506.10 245.97 L541.90 255.25 M398.70 283.41 L434.50 254.85 L470.30 222.41 L506.10 244.64 L541.90 259.00 M398.70 285.40 L434.50 251.77 L470.30 232.61 L506.10 240.80 L541.90 246.47 M398.70 288.48 L434.50 254.88 L470.30 229.29 L506.10 253.87 L541.90 256.47 M398.70 287.28 L434.50 249.34 L470.30 228.54 L506.10 240.18 L541.90 246.76 M398.70 282.22 L434.50 247.00 L470.30 228.79 L506.10 234.64 L541.90 246.21 M398.70 285.33 L434.50 248.56 L470.30 223.15 L506.10 234.51 L541.90 248.75 M398.70 292.18 L434.50 261.82 L470.30 241.69 L506.10 253.83 L541.90 258.02 M398.70 289.56 L434.50 247.49 L470.30 240.96 L506.10 252.19 L541.90 249.79 M398.70 286.30 L434.50 255.62 L470.30 238.61 L506.10 243.88 L541.90 247.46 M398.70 285.32 L434.50 249.79 L470.30 235.36 L506.10 235.74 L541.90 247.86" fill="none" stroke="#D95319" stroke-width="0.55" stroke-linejoin="round"/>
<path d="M398.70 292.85 L434.50 265.97 L470.30 245.13 L506.10 256.09 L541.90 268.82 M398.70 297.00 L434.50 274.71 L470.30 247.81 L506.10 263.34 L541.90 268.19 M398.70 296.89 L434.50 267.72 L470.30 249.11 L506.10 264.25 L541.90 266.24 M398.70 292.30 L434.50 269.14 L470.30 244.62 L506.10 257.56 L541.90 257.71 M398.70 295.41 L434.50 275.11 L470.30 249.59 L506.10 253.57 L541.90 268.09 M398.70 293.72 L434.50 267.25 L470.30 247.00 L506.10 252.46 L541.90 257.63 M398.70 294.91 L434.50 267.89 L470.30 244.86 L506.10 252.24 L541.90 273.90 M398.70 293.23 L434.50 268.94 L470.30 247.54 L506.10 262.81 L541.90 264.52 M398.70 297.59 L434.50 267.23 L470.30 250.04 L506.10 251.64 L541.90 256.18 M398.70 292.82 L434.50 265.80 L470.30 249.44 L506.10 251.62 L541.90 266.61 M398.70 292.27 L434.50 266.78 L470.30 247.80 L506.10 256.40 L541.90 269.41 M398.70 292.05 L434.50 268.27 L470.30 243.72 L506.10 255.39 L541.90 263.85 M398.70 293.78 L434.50 270.79 L470.30 247.52 L506.10 256.24 L541.90 270.98 M398.70 291.44 L434.50 269.90 L470.30 246.67 L506.10 251.08 L541.90 261.45 M398.70 296.99 L434.50 268.33 L470.30 246.80 L506.10 260.65 L541.90 258.08 M398.70 296.59 L434.50 274.41 L470.30 249.07 L506.10 261.31 L541.90 274.71 M398.70 296.76 L434.50 271.01 L470.30 248.76 L506.10 254.29 L541.90 267.97 M398.70 296.21 L434.50 274.80 L470.30 252.44 L506.10 264.70 L541.90 269.15 M398.70 294.69 L434.50 271.37 L470.30 247.46 L506.10 252.54 L541.90 270.38 M398.70 293.96 L434.50 264.21 L470.30 247.65 L506.10 255.34 L541.90 261.67 M398.70 292.56 L434.50 268.35 L470.30 246.22 L506.10 252.46 L541.90 258.07 M398.70 292.79 L434.50 269.90 L470.30 247.55 L506.10 254.99 L541.90 262.64 M398.70 291.32 L434.50 267.15 L470.30 251.16 L506.10 259.51 L541.90 271.15 M398.70 297.30 L434.50 275.10 L470.30 250.10 L506.10 264.41 L541.90 269.16 M398.70 295.22 L434.50 268.65 L470.30 243.30 L506.10 256.97 L541.90 263.53 M398.70 294.25 L434.50 275.37 L470.30 251.41 L506.10 262.79 L541.90 266.37 M398.70 293.49 L434.50 265.09 L470.30 243.79 L506.10 257.72 L541.90 264.56 M398.70 291.31 L434.50 264.28 L470.30 243.45 L506.10 256.87 L541.90 258.20 M398.70 291.73 L434.50 266.08 L470.30 246.32 L506.10 252.94 L541.90 265.37 M398.70 297.23 L434.50 267.46 L470.30 243.89 L506.10 258.38 L541.90 263.17 M398.70 294.56 L434.50 270.52 L470.30 245.80 L506.10 253.00 L541.90 273.31 M398.70 294.10 L434.50 271.25 L470.30 249.98 L506.10 261.35 L541.90 266.24 M398.70 295.68 L434.50 269.71 L470.30 250.43 L506.10 253.04 L541.90 257.62 M398.70 294.06 L434.50 272.14 L470.30 250.53 L506.10 261.06 L541.90 271.01 M398.70 294.95 L434.50 275.17 L470.30 247.70 L506.10 259.10 L541.90 272.89 M398.70 291.66 L434.50 265.27 L470.30 247.99 L506.10 260.45 L541.90 258.17 M398.70 297.83 L434.50 264.66 L470.30 245.37 L506.10 261.64 L541.90 266.44 M398.70 293.28 L434.50 268.23 L470.30 243.88 L506.10 257.11 L541.90 259.46 M398.70 290.85 L434.50 266.18 L470.30 244.65 L506.10 257.83 L541.90 259.40 M398.70 295.86 L434.50 264.56 L470.30 246.74 L506.10 251.67 L541.90 262.43 M398.70 294.11 L434.50 274.72 L470.30 251.47 L506.10 258.65 L541.90 271.36 M398.70 294.31 L434.50 264.16 L470.30 248.12 L506.10 261.29 L541.90 265.40 M398.70 292.84 L434.50 270.00 L470.30 247.24 L506.10 255.16 L541.90 260.35 M398.70 291.14 L434.50 268.73 L470.30 243.89 L506.10 257.17 L541.90 258.15 M398.70 293.26 L434.50 265.06 L470.30 245.86 L506.10 251.36 L541.90 264.69 M398.70 293.19 L434.50 268.51 L470.30 245.58 L506.10 259.15 L541.90 272.50 M398.70 295.18 L434.50 266.38 L470.30 249.33 L506.10 252.96 L541.90 259.36 M398.70 293.78 L434.50 272.47 L470.30 250.86 L506.10 262.23 L541.90 274.23 M398.70 296.45 L434.50 273.42 L470.30 247.28 L506.10 263.58 L541.90 271.30 M398.70 296.02 L434.50 273.57 L470.30 248.53 L506.10 257.89 L541.90 274.50 M398.70 295.55 L434.50 269.40 L470.30 250.31 L506.10 259.68 L541.90 270.59 M398.70 297.62 L434.50 274.65 L470.30 252.64 L506.10 263.43 L541.90 272.16 M398.70 294.91 L434.50 267.37 L470.30 245.52 L506.10 259.51 L541.90 270.02 M398.70 294.45 L434.50 275.55 L470.30 251.91 L506.10 263.53 L541.90 262.72 M398.70 293.91 L434.50 263.83 L470.30 243.85 L506.10 255.61 L541.90 255.93 M398.70 295.50 L434.50 274.37 L470.30 251.21 L506.10 257.33 L541.90 263.92 M398.70 293.98 L434.50 270.09 L470.30 248.86 L506.10 259.95 L541.90 273.68 M398.70 292.28 L434.50 267.05 L470.30 244.48 L506.10 258.00 L541.90 259.36 M398.70 292.29 L434.50 266.10 L470.30 251.05 L506.10 254.52 L541.90 263.87 M398.70 296.47 L434.50 268.44 L470.30 247.16 L506.10 258.44 L541.90 275.25 M398.70 293.08 L434.50 270.23 L470.30 247.66 L506.10 263.41 L541.90 270.27 M398.70 291.65 L434.50 264.68 L470.30 245.95 L506.10 255.13 L541.90 262.34 M398.70 297.57 L434.50 274.23 L470.30 252.10 L506.10 263.57 L541.90 272.09 M398.70 291.72 L434.50 273.63 L470.30 245.28 L506.10 261.86 L541.90 264.60 M398.70 293.47 L434.50 275.04 L470.30 246.09 L506.10 261.67 L541.90 272.08 M398.70 293.49 L434.50 268.73 L470.30 249.75 L506.10 251.67 L541.90 256.46 M398.70 295.25 L434.50 272.34 L470.30 252.41 L506.10 260.91 L541.90 273.50 M398.70 292.43 L434.50 265.30 L470.30 243.33 L506.10 251.92 L541.90 255.98 M398.70 291.17 L434.50 275.28 L470.30 244.08 L506.10 261.25 L541.90 263.99 M398.70 295.71 L434.50 264.62 L470.30 244.22 L506.10 256.27 L541.90 257.98 M398.70 292.00 L434.50 271.70 L470.30 247.49 L506.10 262.86 L541.90 270.48 M398.70 290.70 L434.50 264.25 L470.30 243.10 L506.10 256.67 L541.90 270.11 M398.70 295.82 L434.50 272.79 L470.30 250.33 L506.10 259.87 L541.90 267.36 M398.70 293.41 L434.50 270.99 L470.30 247.05 L506.10 262.80 L541.90 269.03 M398.70 292.03 L434.50 268.88 L470.30 245.40 L506.10 255.76 L541.90 256.24 M398.70 291.76 L434.50 266.59 L470.30 248.59 L506.10 251.32 L541.90 257.50 M398.70 295.78 L434.50 265.34 L470.30 244.56 L506.10 251.85 L541.90 263.05 M398.70 292.05 L434.50 268.65 L470.30 246.40 L506.10 256.08 L541.90 260.34 M398.70 297.42 L434.50 269.28 L470.30 249.83 L506.10 265.01 L541.90 274.78 M398.70 291.07 L434.50 264.46 L470.30 247.14 L506.10 251.66 L541.90 260.19" fill="none" stroke="#EDB120" stroke-width="0.6" stroke-linejoin="round"/>
<path d="M398.70 293.96 L434.50 268.76 L470.30 241.16 L506.10 257.72 L541.90 259.85 M398.70 293.83 L434.50 269.90 L470.30 241.57 L506.10 256.89 L541.90 262.96 M398.70 292.59 L434.50 263.79 L470.30 242.55 L506.10 253.77 L541.90 257.41 M398.70 294.37 L434.50 267.85 L470.30 239.00 L506.10 254.68 L541.90 256.93 M398.70 292.34 L434.50 262.89 L470.30 238.13 L506.10 255.01 L541.90 260.18" fill="none" stroke="#EDB120" stroke-width="0.6" stroke-linejoin="round"/>
<path d="M398.70 187.10 L398.70 306.50 L541.90 306.50" fill="none" stroke="#8c8c8c" stroke-width="1"/>
<path d="M398.70 306.50 h1.5 M398.70 286.60 h1.5 M398.70 266.70 h1.5 M398.70 246.80 h1.5 M398.70 226.90 h1.5 M398.70 207.00 h1.5 M398.70 187.10 h1.5 M434.50 306.50 v-1.5 M470.30 306.50 v-1.5 M506.10 306.50 v-1.5 M541.90 306.50 v-1.5" stroke="#8c8c8c" stroke-width="0.8"/>
<text x="395.20" y="309.50" text-anchor="end" class="t">0</text>
<text x="395.20" y="289.60" text-anchor="end" class="t">0.1</text>
<text x="395.20" y="269.70" text-anchor="end" class="t">0.2</text>
<text x="395.20" y="249.80" text-anchor="end" class="t">0.3</text>
<text x="395.20" y="229.90" text-anchor="end" class="t">0.4</text>
<text x="395.20" y="210.00" text-anchor="end" class="t">0.5</text>
<text x="395.20" y="190.10" text-anchor="end" class="t">0.6</text>
<text x="398.70" y="318.60" text-anchor="middle" class="t">f1</text>
<text x="434.50" y="318.60" text-anchor="middle" class="t">f2</text>
<text x="470.30" y="318.60" text-anchor="middle" class="t">f3</text>
<text x="506.10" y="318.60" text-anchor="middle" class="t">f4</text>
<text x="541.90" y="318.60" text-anchor="middle" class="t">f5</text>
<text x="470.30" y="183.50" text-anchor="middle" class="ti">Sixth</text>
<line x1="169.1" y1="332.2" x2="194.8" y2="332.2" stroke="#88bde6" stroke-width="1"/>
<text x="197" y="335" class="lg">NSGA-II</text>
<line x1="241" y1="332.2" x2="266" y2="332.2" stroke="#f0a98b" stroke-width="1"/>
<text x="268.6" y="335" class="lg">NSGA-III</text>
<line x1="316.9" y1="332.2" x2="342.4" y2="332.2" stroke="#f6d89a" stroke-width="1"/>
<text x="345.5" y="335" class="lg">NSGA-III-I</text>
</svg>
</body></html>
